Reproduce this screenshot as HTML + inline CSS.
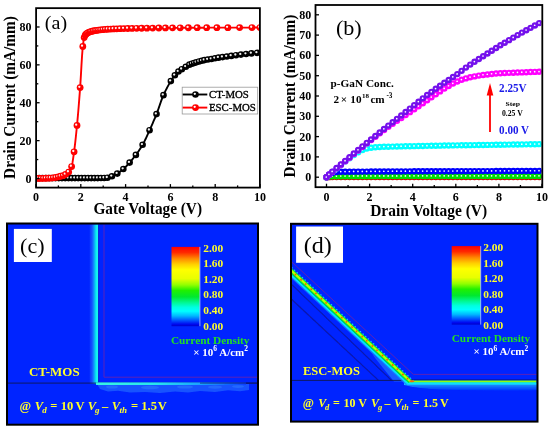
<!DOCTYPE html>
<html><head><meta charset="utf-8"><style>html,body{margin:0;padding:0;background:#fff;width:550px;height:430px;overflow:hidden}svg{display:block}</style></head><body>
<svg width="550" height="430" viewBox="0 0 550 430" font-family="'Liberation Serif','Times New Roman',serif">
<rect width="550" height="430" fill="#fff"/>
<clipPath id="clipa"><rect x="36.9" y="9" width="222.2" height="177.7"/></clipPath><g clip-path="url(#clipa)">
<polyline points="36.00,178.12 36.56,178.12 37.12,178.12 37.68,178.12 38.25,178.12 38.81,178.12 39.37,178.12 39.93,178.12 40.49,178.12 41.05,178.12 41.61,178.12 42.18,178.12 42.74,178.12 43.30,178.12 43.86,178.12 44.42,178.12 44.98,178.12 45.54,178.12 46.11,178.12 46.67,178.12 47.23,178.12 47.79,178.12 48.35,178.12 48.91,178.12 49.47,178.12 50.04,178.12 50.60,178.11 51.16,178.11 51.72,178.11 52.28,178.11 52.84,178.11 53.40,178.11 53.96,178.11 54.53,178.11 55.09,178.11 55.65,178.11 56.21,178.11 56.77,178.11 57.33,178.11 57.89,178.11 58.46,178.11 59.02,178.11 59.58,178.11 60.14,178.11 60.70,178.11 61.26,178.11 61.82,178.11 62.39,178.11 62.95,178.11 63.51,178.11 64.07,178.11 64.63,178.11 65.19,178.11 65.75,178.11 66.32,178.11 66.88,178.11 67.44,178.11 68.00,178.11 68.56,178.11 69.12,178.11 69.68,178.11 70.25,178.11 70.81,178.11 71.37,178.11 71.93,178.11 72.49,178.11 73.05,178.11 73.61,178.11 74.18,178.11 74.74,178.11 75.30,178.11 75.86,178.11 76.42,178.11 76.98,178.11 77.54,178.11 78.11,178.10 78.67,178.10 79.23,178.10 79.79,178.10 80.35,178.10 80.91,178.10 81.47,178.10 82.04,178.10 82.60,178.10 83.16,178.10 83.72,178.10 84.28,178.10 84.84,178.10 85.40,178.10 85.96,178.10 86.53,178.10 87.09,178.10 87.65,178.10 88.21,178.10 88.77,178.10 89.33,178.10 89.89,178.10 90.46,178.09 91.02,178.09 91.58,178.09 92.14,178.09 92.70,178.09 93.26,178.09 93.82,178.09 94.39,178.09 94.95,178.09 95.51,178.09 96.07,178.09 96.63,178.09 97.19,178.09 97.75,178.08 98.32,178.08 98.88,178.08 99.44,178.08 100.00,178.07 100.56,178.06 101.12,178.05 101.68,178.03 102.25,178.02 102.81,177.99 103.37,177.97 103.93,177.94 104.49,177.91 105.05,177.88 105.61,177.84 106.18,177.80 106.74,177.76 107.30,177.71 107.86,177.62 108.42,177.49 108.98,177.33 109.54,177.14 110.11,176.94 110.67,176.72 111.23,176.50 111.79,176.28 112.35,176.07 112.91,175.84 113.47,175.59 114.04,175.33 114.60,175.06 115.16,174.77 115.72,174.48 116.28,174.17 116.84,173.85 117.40,173.52 117.96,173.18 118.53,172.81 119.09,172.42 119.65,172.02 120.21,171.60 120.77,171.17 121.33,170.72 121.89,170.26 122.46,169.80 123.02,169.31 123.58,168.81 124.14,168.30 124.70,167.77 125.26,167.23 125.82,166.68 126.39,166.11 126.95,165.53 127.51,164.93 128.07,164.33 128.63,163.71 129.19,163.09 129.75,162.45 130.32,161.81 130.88,161.15 131.44,160.49 132.00,159.83 132.56,159.15 133.12,158.46 133.68,157.76 134.25,157.05 134.81,156.33 135.37,155.60 135.93,154.86 136.49,154.10 137.05,153.33 137.61,152.54 138.18,151.74 138.74,150.92 139.30,150.09 139.86,149.24 140.42,148.37 140.98,147.48 141.54,146.58 142.11,145.66 142.67,144.71 143.23,143.73 143.79,142.68 144.35,141.59 144.91,140.45 145.47,139.28 146.04,138.07 146.60,136.84 147.16,135.59 147.72,134.34 148.28,133.07 148.84,131.82 149.40,130.57 149.96,129.33 150.53,128.08 151.09,126.83 151.65,125.58 152.21,124.31 152.77,123.03 153.33,121.74 153.89,120.43 154.46,119.11 155.02,117.77 155.58,116.41 156.14,115.03 156.70,113.62 157.26,112.15 157.82,110.62 158.39,109.03 158.95,107.42 159.51,105.78 160.07,104.15 160.63,102.53 161.19,100.94 161.75,99.40 162.32,97.92 162.88,96.51 163.44,95.20 164.00,93.96 164.56,92.75 165.12,91.58 165.68,90.43 166.25,89.31 166.81,88.22 167.37,87.15 167.93,86.11 168.49,85.10 169.05,84.11 169.61,83.14 170.18,82.19 170.74,81.27 171.30,80.36 171.86,79.48 172.42,78.63 172.98,77.81 173.54,77.02 174.11,76.26 174.67,75.54 175.23,74.85 175.79,74.18 176.35,73.54 176.91,72.93 177.47,72.36 178.04,71.85 178.60,71.39 179.16,70.97 179.72,70.58 180.28,70.21 180.84,69.85 181.40,69.49 181.96,69.12 182.53,68.77 183.09,68.42 183.65,68.07 184.21,67.73 184.77,67.40 185.33,67.06 185.89,66.73 186.46,66.39 187.02,66.04 187.58,65.69 188.14,65.35 188.70,65.04 189.26,64.75 189.82,64.50 190.39,64.27 190.95,64.05 191.51,63.85 192.07,63.65 192.63,63.46 193.19,63.28 193.75,63.09 194.32,62.91 194.88,62.72 195.44,62.54 196.00,62.36 196.56,62.19 197.12,62.01 197.68,61.85 198.25,61.68 198.81,61.52 199.37,61.37 199.93,61.22 200.49,61.07 201.05,60.92 201.61,60.77 202.18,60.63 202.74,60.50 203.30,60.37 203.86,60.25 204.42,60.13 204.98,60.02 205.54,59.92 206.11,59.82 206.67,59.73 207.23,59.64 207.79,59.56 208.35,59.47 208.91,59.38 209.47,59.30 210.04,59.21 210.60,59.12 211.16,59.03 211.72,58.93 212.28,58.83 212.84,58.72 213.40,58.62 213.96,58.51 214.53,58.40 215.09,58.29 215.65,58.18 216.21,58.07 216.77,57.97 217.33,57.87 217.89,57.77 218.46,57.68 219.02,57.59 219.58,57.51 220.14,57.42 220.70,57.35 221.26,57.27 221.82,57.19 222.39,57.12 222.95,57.04 223.51,56.97 224.07,56.90 224.63,56.82 225.19,56.75 225.75,56.68 226.32,56.60 226.88,56.52 227.44,56.44 228.00,56.36 228.56,56.28 229.12,56.20 229.68,56.12 230.25,56.04 230.81,55.96 231.37,55.88 231.93,55.80 232.49,55.72 233.05,55.64 233.61,55.56 234.18,55.48 234.74,55.40 235.30,55.32 235.86,55.24 236.42,55.17 236.98,55.09 237.54,55.02 238.11,54.95 238.67,54.88 239.23,54.80 239.79,54.73 240.35,54.66 240.91,54.60 241.47,54.53 242.04,54.46 242.60,54.39 243.16,54.33 243.72,54.26 244.28,54.19 244.84,54.13 245.40,54.07 245.96,54.00 246.53,53.94 247.09,53.87 247.65,53.81 248.21,53.75 248.77,53.69 249.33,53.63 249.89,53.57 250.46,53.51 251.02,53.45 251.58,53.39 252.14,53.33 252.70,53.28 253.26,53.22 253.82,53.16 254.39,53.11 254.95,53.05 255.51,53.00 256.07,52.94 256.63,52.89 257.19,52.83 257.75,52.77 258.32,52.72 258.88,52.66 259.44,52.61 260.00,52.55" fill="none" stroke="#000" stroke-width="1.9"/>
<circle cx="36.00" cy="178.12" r="3.3" fill="#000"/><circle cx="35.30" cy="177.42" r="1.15" fill="#fff" opacity="0.95"/>
<circle cx="39.25" cy="178.12" r="3.3" fill="#000"/><circle cx="38.55" cy="177.42" r="1.15" fill="#fff" opacity="0.95"/>
<circle cx="42.50" cy="178.12" r="3.3" fill="#000"/><circle cx="41.80" cy="177.42" r="1.15" fill="#fff" opacity="0.95"/>
<circle cx="45.74" cy="178.12" r="3.3" fill="#000"/><circle cx="45.04" cy="177.42" r="1.15" fill="#fff" opacity="0.95"/>
<circle cx="48.99" cy="178.12" r="3.3" fill="#000"/><circle cx="48.29" cy="177.42" r="1.15" fill="#fff" opacity="0.95"/>
<circle cx="52.24" cy="178.11" r="3.3" fill="#000"/><circle cx="51.54" cy="177.41" r="1.15" fill="#fff" opacity="0.95"/>
<circle cx="55.49" cy="178.11" r="3.3" fill="#000"/><circle cx="54.79" cy="177.41" r="1.15" fill="#fff" opacity="0.95"/>
<circle cx="58.74" cy="178.11" r="3.3" fill="#000"/><circle cx="58.04" cy="177.41" r="1.15" fill="#fff" opacity="0.95"/>
<circle cx="61.98" cy="178.11" r="3.3" fill="#000"/><circle cx="61.28" cy="177.41" r="1.15" fill="#fff" opacity="0.95"/>
<circle cx="65.23" cy="178.11" r="3.3" fill="#000"/><circle cx="64.53" cy="177.41" r="1.15" fill="#fff" opacity="0.95"/>
<circle cx="68.48" cy="178.11" r="3.3" fill="#000"/><circle cx="67.78" cy="177.41" r="1.15" fill="#fff" opacity="0.95"/>
<circle cx="71.73" cy="178.11" r="3.3" fill="#000"/><circle cx="71.03" cy="177.41" r="1.15" fill="#fff" opacity="0.95"/>
<circle cx="74.98" cy="178.11" r="3.3" fill="#000"/><circle cx="74.28" cy="177.41" r="1.15" fill="#fff" opacity="0.95"/>
<circle cx="78.22" cy="178.10" r="3.3" fill="#000"/><circle cx="77.52" cy="177.40" r="1.15" fill="#fff" opacity="0.95"/>
<circle cx="81.47" cy="178.10" r="3.3" fill="#000"/><circle cx="80.77" cy="177.40" r="1.15" fill="#fff" opacity="0.95"/>
<circle cx="84.72" cy="178.10" r="3.3" fill="#000"/><circle cx="84.02" cy="177.40" r="1.15" fill="#fff" opacity="0.95"/>
<circle cx="87.97" cy="178.10" r="3.3" fill="#000"/><circle cx="87.27" cy="177.40" r="1.15" fill="#fff" opacity="0.95"/>
<circle cx="91.22" cy="178.09" r="3.3" fill="#000"/><circle cx="90.52" cy="177.39" r="1.15" fill="#fff" opacity="0.95"/>
<circle cx="94.46" cy="178.09" r="3.3" fill="#000"/><circle cx="93.76" cy="177.39" r="1.15" fill="#fff" opacity="0.95"/>
<circle cx="97.71" cy="178.08" r="3.3" fill="#000"/><circle cx="97.01" cy="177.38" r="1.15" fill="#fff" opacity="0.95"/>
<circle cx="100.96" cy="178.05" r="3.3" fill="#000"/><circle cx="100.26" cy="177.35" r="1.15" fill="#fff" opacity="0.95"/>
<circle cx="104.21" cy="177.93" r="3.3" fill="#000"/><circle cx="103.51" cy="177.23" r="1.15" fill="#fff" opacity="0.95"/>
<circle cx="107.46" cy="177.69" r="3.3" fill="#000"/><circle cx="106.76" cy="176.99" r="1.15" fill="#fff" opacity="0.95"/>
<circle cx="111.94" cy="176.23" r="3.3" fill="#000"/><circle cx="111.24" cy="175.53" r="1.15" fill="#fff" opacity="0.95"/>
<circle cx="117.31" cy="173.58" r="3.3" fill="#000"/><circle cx="116.61" cy="172.88" r="1.15" fill="#fff" opacity="0.95"/>
<circle cx="123.36" cy="169.01" r="3.3" fill="#000"/><circle cx="122.66" cy="168.31" r="1.15" fill="#fff" opacity="0.95"/>
<circle cx="129.63" cy="162.59" r="3.3" fill="#000"/><circle cx="128.93" cy="161.89" r="1.15" fill="#fff" opacity="0.95"/>
<circle cx="135.90" cy="154.89" r="3.3" fill="#000"/><circle cx="135.20" cy="154.19" r="1.15" fill="#fff" opacity="0.95"/>
<circle cx="142.62" cy="144.79" r="3.3" fill="#000"/><circle cx="141.92" cy="144.09" r="1.15" fill="#fff" opacity="0.95"/>
<circle cx="149.57" cy="130.20" r="3.3" fill="#000"/><circle cx="148.87" cy="129.50" r="1.15" fill="#fff" opacity="0.95"/>
<circle cx="156.51" cy="114.10" r="3.3" fill="#000"/><circle cx="155.81" cy="113.40" r="1.15" fill="#fff" opacity="0.95"/>
<circle cx="163.46" cy="95.16" r="3.3" fill="#000"/><circle cx="162.76" cy="94.46" r="1.15" fill="#fff" opacity="0.95"/>
<circle cx="170.85" cy="81.09" r="3.3" fill="#000"/><circle cx="170.15" cy="80.39" r="1.15" fill="#fff" opacity="0.95"/>
<circle cx="174.88" cy="75.28" r="3.3" fill="#000"/><circle cx="174.18" cy="74.58" r="1.15" fill="#fff" opacity="0.95"/>
<circle cx="178.46" cy="71.50" r="3.3" fill="#000"/><circle cx="177.76" cy="70.80" r="1.15" fill="#fff" opacity="0.95"/>
<circle cx="181.82" cy="69.22" r="3.3" fill="#000"/><circle cx="181.12" cy="68.52" r="1.15" fill="#fff" opacity="0.95"/>
<circle cx="185.86" cy="66.75" r="3.3" fill="#000"/><circle cx="185.16" cy="66.05" r="1.15" fill="#fff" opacity="0.95"/>
<circle cx="189.44" cy="64.67" r="3.3" fill="#000"/><circle cx="188.74" cy="63.97" r="1.15" fill="#fff" opacity="0.95"/>
<circle cx="191.90" cy="63.71" r="3.3" fill="#000"/><circle cx="191.20" cy="63.01" r="1.15" fill="#fff" opacity="0.95"/>
<circle cx="194.14" cy="62.97" r="3.3" fill="#000"/><circle cx="193.44" cy="62.27" r="1.15" fill="#fff" opacity="0.95"/>
<circle cx="196.38" cy="62.24" r="3.3" fill="#000"/><circle cx="195.68" cy="61.54" r="1.15" fill="#fff" opacity="0.95"/>
<circle cx="199.07" cy="61.45" r="3.3" fill="#000"/><circle cx="198.37" cy="60.75" r="1.15" fill="#fff" opacity="0.95"/>
<circle cx="201.76" cy="60.74" r="3.3" fill="#000"/><circle cx="201.06" cy="60.04" r="1.15" fill="#fff" opacity="0.95"/>
<circle cx="204.45" cy="60.12" r="3.3" fill="#000"/><circle cx="203.75" cy="59.42" r="1.15" fill="#fff" opacity="0.95"/>
<circle cx="207.81" cy="59.55" r="3.3" fill="#000"/><circle cx="207.11" cy="58.85" r="1.15" fill="#fff" opacity="0.95"/>
<circle cx="211.39" cy="58.99" r="3.3" fill="#000"/><circle cx="210.69" cy="58.29" r="1.15" fill="#fff" opacity="0.95"/>
<circle cx="214.98" cy="58.31" r="3.3" fill="#000"/><circle cx="214.28" cy="57.61" r="1.15" fill="#fff" opacity="0.95"/>
<circle cx="218.56" cy="57.66" r="3.3" fill="#000"/><circle cx="217.86" cy="56.96" r="1.15" fill="#fff" opacity="0.95"/>
<circle cx="222.59" cy="57.09" r="3.3" fill="#000"/><circle cx="221.89" cy="56.39" r="1.15" fill="#fff" opacity="0.95"/>
<circle cx="226.85" cy="56.53" r="3.3" fill="#000"/><circle cx="226.15" cy="55.83" r="1.15" fill="#fff" opacity="0.95"/>
<circle cx="231.33" cy="55.88" r="3.3" fill="#000"/><circle cx="230.63" cy="55.18" r="1.15" fill="#fff" opacity="0.95"/>
<circle cx="236.03" cy="55.22" r="3.3" fill="#000"/><circle cx="235.33" cy="54.52" r="1.15" fill="#fff" opacity="0.95"/>
<circle cx="240.96" cy="54.59" r="3.3" fill="#000"/><circle cx="240.26" cy="53.89" r="1.15" fill="#fff" opacity="0.95"/>
<circle cx="246.11" cy="53.98" r="3.3" fill="#000"/><circle cx="245.41" cy="53.28" r="1.15" fill="#fff" opacity="0.95"/>
<circle cx="251.49" cy="53.40" r="3.3" fill="#000"/><circle cx="250.79" cy="52.70" r="1.15" fill="#fff" opacity="0.95"/>
<circle cx="257.09" cy="52.84" r="3.3" fill="#000"/><circle cx="256.39" cy="52.14" r="1.15" fill="#fff" opacity="0.95"/>
<polyline points="36.00,178.50 36.56,178.48 37.12,178.47 37.68,178.46 38.25,178.44 38.81,178.43 39.37,178.42 39.93,178.41 40.49,178.39 41.05,178.38 41.61,178.37 42.18,178.36 42.74,178.34 43.30,178.33 43.86,178.32 44.42,178.30 44.98,178.29 45.54,178.27 46.11,178.25 46.67,178.23 47.23,178.21 47.79,178.19 48.35,178.17 48.91,178.15 49.47,178.12 50.04,178.09 50.60,178.05 51.16,178.00 51.72,177.95 52.28,177.90 52.84,177.83 53.40,177.76 53.96,177.69 54.53,177.61 55.09,177.53 55.65,177.44 56.21,177.36 56.77,177.25 57.33,177.12 57.89,176.98 58.46,176.82 59.02,176.67 59.58,176.52 60.14,176.38 60.70,176.25 61.26,176.13 61.82,176.01 62.39,175.87 62.95,175.71 63.51,175.50 64.07,175.23 64.63,174.91 65.19,174.57 65.75,174.22 66.32,173.88 66.88,173.54 67.44,173.16 68.00,172.72 68.56,172.21 69.12,171.58 69.68,170.80 70.25,169.83 70.81,168.66 71.37,167.26 71.93,165.46 72.49,162.68 73.05,159.13 73.61,155.17 74.18,151.10 74.74,146.74 75.30,141.93 75.86,136.75 76.42,131.27 76.98,125.57 77.54,119.58 78.11,113.21 78.67,106.49 79.23,99.45 79.79,92.13 80.35,84.39 80.91,75.18 81.47,65.30 82.04,56.03 82.60,48.61 83.16,43.69 83.72,39.74 84.28,37.12 84.84,35.82 85.40,34.89 85.96,34.21 86.53,33.69 87.09,33.26 87.65,32.89 88.21,32.57 88.77,32.29 89.33,32.06 89.89,31.86 90.46,31.68 91.02,31.51 91.58,31.36 92.14,31.21 92.70,31.08 93.26,30.95 93.82,30.84 94.39,30.73 94.95,30.63 95.51,30.54 96.07,30.45 96.63,30.37 97.19,30.29 97.75,30.21 98.32,30.14 98.88,30.06 99.44,29.99 100.00,29.92 100.56,29.86 101.12,29.80 101.68,29.73 102.25,29.68 102.81,29.62 103.37,29.57 103.93,29.52 104.49,29.47 105.05,29.42 105.61,29.38 106.18,29.34 106.74,29.31 107.30,29.27 107.86,29.24 108.42,29.21 108.98,29.18 109.54,29.16 110.11,29.13 110.67,29.10 111.23,29.07 111.79,29.05 112.35,29.02 112.91,29.00 113.47,28.97 114.04,28.95 114.60,28.92 115.16,28.90 115.72,28.88 116.28,28.86 116.84,28.83 117.40,28.81 117.96,28.79 118.53,28.77 119.09,28.75 119.65,28.73 120.21,28.71 120.77,28.69 121.33,28.67 121.89,28.66 122.46,28.64 123.02,28.62 123.58,28.60 124.14,28.59 124.70,28.57 125.26,28.56 125.82,28.54 126.39,28.53 126.95,28.51 127.51,28.50 128.07,28.48 128.63,28.47 129.19,28.46 129.75,28.44 130.32,28.43 130.88,28.42 131.44,28.41 132.00,28.39 132.56,28.38 133.12,28.37 133.68,28.36 134.25,28.35 134.81,28.34 135.37,28.33 135.93,28.32 136.49,28.31 137.05,28.30 137.61,28.29 138.18,28.28 138.74,28.27 139.30,28.27 139.86,28.26 140.42,28.25 140.98,28.24 141.54,28.23 142.11,28.22 142.67,28.21 143.23,28.21 143.79,28.20 144.35,28.19 144.91,28.18 145.47,28.17 146.04,28.16 146.60,28.16 147.16,28.15 147.72,28.14 148.28,28.13 148.84,28.13 149.40,28.12 149.96,28.11 150.53,28.10 151.09,28.10 151.65,28.09 152.21,28.08 152.77,28.07 153.33,28.07 153.89,28.06 154.46,28.05 155.02,28.05 155.58,28.04 156.14,28.03 156.70,28.03 157.26,28.02 157.82,28.01 158.39,28.01 158.95,28.00 159.51,27.99 160.07,27.99 160.63,27.98 161.19,27.98 161.75,27.97 162.32,27.96 162.88,27.96 163.44,27.95 164.00,27.95 164.56,27.94 165.12,27.94 165.68,27.93 166.25,27.92 166.81,27.92 167.37,27.91 167.93,27.91 168.49,27.90 169.05,27.90 169.61,27.89 170.18,27.89 170.74,27.88 171.30,27.88 171.86,27.87 172.42,27.87 172.98,27.86 173.54,27.86 174.11,27.85 174.67,27.85 175.23,27.85 175.79,27.84 176.35,27.84 176.91,27.83 177.47,27.83 178.04,27.82 178.60,27.82 179.16,27.82 179.72,27.81 180.28,27.81 180.84,27.80 181.40,27.80 181.96,27.80 182.53,27.79 183.09,27.79 183.65,27.79 184.21,27.78 184.77,27.78 185.33,27.78 185.89,27.77 186.46,27.77 187.02,27.77 187.58,27.76 188.14,27.76 188.70,27.76 189.26,27.75 189.82,27.75 190.39,27.75 190.95,27.75 191.51,27.74 192.07,27.74 192.63,27.74 193.19,27.74 193.75,27.73 194.32,27.73 194.88,27.73 195.44,27.73 196.00,27.72 196.56,27.72 197.12,27.72 197.68,27.72 198.25,27.71 198.81,27.71 199.37,27.71 199.93,27.71 200.49,27.71 201.05,27.70 201.61,27.70 202.18,27.70 202.74,27.70 203.30,27.70 203.86,27.69 204.42,27.69 204.98,27.69 205.54,27.69 206.11,27.69 206.67,27.68 207.23,27.68 207.79,27.68 208.35,27.68 208.91,27.68 209.47,27.67 210.04,27.67 210.60,27.67 211.16,27.67 211.72,27.67 212.28,27.67 212.84,27.66 213.40,27.66 213.96,27.66 214.53,27.66 215.09,27.66 215.65,27.66 216.21,27.66 216.77,27.65 217.33,27.65 217.89,27.65 218.46,27.65 219.02,27.65 219.58,27.65 220.14,27.64 220.70,27.64 221.26,27.64 221.82,27.64 222.39,27.64 222.95,27.64 223.51,27.64 224.07,27.63 224.63,27.63 225.19,27.63 225.75,27.63 226.32,27.63 226.88,27.63 227.44,27.63 228.00,27.63 228.56,27.62 229.12,27.62 229.68,27.62 230.25,27.62 230.81,27.62 231.37,27.62 231.93,27.62 232.49,27.61 233.05,27.61 233.61,27.61 234.18,27.61 234.74,27.61 235.30,27.61 235.86,27.61 236.42,27.61 236.98,27.60 237.54,27.60 238.11,27.60 238.67,27.60 239.23,27.60 239.79,27.60 240.35,27.60 240.91,27.60 241.47,27.59 242.04,27.59 242.60,27.59 243.16,27.59 243.72,27.59 244.28,27.59 244.84,27.59 245.40,27.59 245.96,27.58 246.53,27.58 247.09,27.58 247.65,27.58 248.21,27.58 248.77,27.58 249.33,27.58 249.89,27.57 250.46,27.57 251.02,27.57 251.58,27.57 252.14,27.57 252.70,27.57 253.26,27.57 253.82,27.56 254.39,27.56 254.95,27.56 255.51,27.56 256.07,27.56 256.63,27.56 257.19,27.56 257.75,27.55 258.32,27.55 258.88,27.55 259.44,27.55 260.00,27.55" fill="none" stroke="#f00" stroke-width="1.9"/>
<circle cx="36.00" cy="178.50" r="3.4" fill="#f00"/><circle cx="35.20" cy="177.70" r="1.15" fill="#fff" opacity="0.95"/>
<circle cx="38.46" cy="178.44" r="3.4" fill="#f00"/><circle cx="37.66" cy="177.64" r="1.15" fill="#fff" opacity="0.95"/>
<circle cx="40.93" cy="178.38" r="3.4" fill="#f00"/><circle cx="40.13" cy="177.58" r="1.15" fill="#fff" opacity="0.95"/>
<circle cx="43.39" cy="178.33" r="3.4" fill="#f00"/><circle cx="42.59" cy="177.53" r="1.15" fill="#fff" opacity="0.95"/>
<circle cx="45.86" cy="178.26" r="3.4" fill="#f00"/><circle cx="45.06" cy="177.46" r="1.15" fill="#fff" opacity="0.95"/>
<circle cx="48.32" cy="178.17" r="3.4" fill="#f00"/><circle cx="47.52" cy="177.37" r="1.15" fill="#fff" opacity="0.95"/>
<circle cx="50.78" cy="178.04" r="3.4" fill="#f00"/><circle cx="49.98" cy="177.24" r="1.15" fill="#fff" opacity="0.95"/>
<circle cx="53.25" cy="177.78" r="3.4" fill="#f00"/><circle cx="52.45" cy="176.98" r="1.15" fill="#fff" opacity="0.95"/>
<circle cx="55.71" cy="177.43" r="3.4" fill="#f00"/><circle cx="54.91" cy="176.63" r="1.15" fill="#fff" opacity="0.95"/>
<circle cx="58.18" cy="176.90" r="3.4" fill="#f00"/><circle cx="57.38" cy="176.10" r="1.15" fill="#fff" opacity="0.95"/>
<circle cx="60.64" cy="176.26" r="3.4" fill="#f00"/><circle cx="59.84" cy="175.46" r="1.15" fill="#fff" opacity="0.95"/>
<circle cx="63.10" cy="175.66" r="3.4" fill="#f00"/><circle cx="62.30" cy="174.86" r="1.15" fill="#fff" opacity="0.95"/>
<circle cx="65.57" cy="174.33" r="3.4" fill="#f00"/><circle cx="64.77" cy="173.53" r="1.15" fill="#fff" opacity="0.95"/>
<circle cx="68.70" cy="172.06" r="3.4" fill="#f00"/><circle cx="67.90" cy="171.26" r="1.15" fill="#fff" opacity="0.95"/>
<circle cx="71.62" cy="166.57" r="3.4" fill="#f00"/><circle cx="70.82" cy="165.77" r="1.15" fill="#fff" opacity="0.95"/>
<circle cx="74.08" cy="151.79" r="3.4" fill="#f00"/><circle cx="73.28" cy="150.99" r="1.15" fill="#fff" opacity="0.95"/>
<circle cx="76.99" cy="125.47" r="3.4" fill="#f00"/><circle cx="76.19" cy="124.67" r="1.15" fill="#fff" opacity="0.95"/>
<circle cx="80.13" cy="87.59" r="3.4" fill="#f00"/><circle cx="79.33" cy="86.79" r="1.15" fill="#fff" opacity="0.95"/>
<circle cx="82.82" cy="46.49" r="3.4" fill="#f00"/><circle cx="82.02" cy="45.69" r="1.15" fill="#fff" opacity="0.95"/>
<circle cx="84.16" cy="37.54" r="3.4" fill="#f00"/><circle cx="83.36" cy="36.74" r="1.15" fill="#fff" opacity="0.95"/>
<circle cx="85.17" cy="35.24" r="3.4" fill="#f00"/><circle cx="84.37" cy="34.44" r="1.15" fill="#fff" opacity="0.95"/>
<circle cx="86.25" cy="33.93" r="3.4" fill="#f00"/><circle cx="85.45" cy="33.13" r="1.15" fill="#fff" opacity="0.95"/>
<circle cx="87.42" cy="33.03" r="3.4" fill="#f00"/><circle cx="86.62" cy="32.23" r="1.15" fill="#fff" opacity="0.95"/>
<circle cx="88.67" cy="32.34" r="3.4" fill="#f00"/><circle cx="87.87" cy="31.54" r="1.15" fill="#fff" opacity="0.95"/>
<circle cx="90.01" cy="31.82" r="3.4" fill="#f00"/><circle cx="89.21" cy="31.02" r="1.15" fill="#fff" opacity="0.95"/>
<circle cx="91.46" cy="31.39" r="3.4" fill="#f00"/><circle cx="90.66" cy="30.59" r="1.15" fill="#fff" opacity="0.95"/>
<circle cx="93.02" cy="31.01" r="3.4" fill="#f00"/><circle cx="92.22" cy="30.21" r="1.15" fill="#fff" opacity="0.95"/>
<circle cx="94.69" cy="30.68" r="3.4" fill="#f00"/><circle cx="93.89" cy="29.88" r="1.15" fill="#fff" opacity="0.95"/>
<circle cx="96.49" cy="30.39" r="3.4" fill="#f00"/><circle cx="95.69" cy="29.59" r="1.15" fill="#fff" opacity="0.95"/>
<circle cx="98.42" cy="30.12" r="3.4" fill="#f00"/><circle cx="97.62" cy="29.32" r="1.15" fill="#fff" opacity="0.95"/>
<circle cx="100.50" cy="29.87" r="3.4" fill="#f00"/><circle cx="99.70" cy="29.07" r="1.15" fill="#fff" opacity="0.95"/>
<circle cx="102.73" cy="29.63" r="3.4" fill="#f00"/><circle cx="101.93" cy="28.83" r="1.15" fill="#fff" opacity="0.95"/>
<circle cx="105.13" cy="29.42" r="3.4" fill="#f00"/><circle cx="104.33" cy="28.62" r="1.15" fill="#fff" opacity="0.95"/>
<circle cx="107.71" cy="29.25" r="3.4" fill="#f00"/><circle cx="106.91" cy="28.45" r="1.15" fill="#fff" opacity="0.95"/>
<circle cx="110.49" cy="29.11" r="3.4" fill="#f00"/><circle cx="109.69" cy="28.31" r="1.15" fill="#fff" opacity="0.95"/>
<circle cx="113.47" cy="28.97" r="3.4" fill="#f00"/><circle cx="112.67" cy="28.17" r="1.15" fill="#fff" opacity="0.95"/>
<circle cx="116.68" cy="28.84" r="3.4" fill="#f00"/><circle cx="115.88" cy="28.04" r="1.15" fill="#fff" opacity="0.95"/>
<circle cx="120.12" cy="28.71" r="3.4" fill="#f00"/><circle cx="119.32" cy="27.91" r="1.15" fill="#fff" opacity="0.95"/>
<circle cx="123.83" cy="28.60" r="3.4" fill="#f00"/><circle cx="123.03" cy="27.80" r="1.15" fill="#fff" opacity="0.95"/>
<circle cx="127.81" cy="28.49" r="3.4" fill="#f00"/><circle cx="127.01" cy="27.69" r="1.15" fill="#fff" opacity="0.95"/>
<circle cx="132.09" cy="28.39" r="3.4" fill="#f00"/><circle cx="131.29" cy="27.59" r="1.15" fill="#fff" opacity="0.95"/>
<circle cx="136.70" cy="28.31" r="3.4" fill="#f00"/><circle cx="135.90" cy="27.51" r="1.15" fill="#fff" opacity="0.95"/>
<circle cx="141.64" cy="28.23" r="3.4" fill="#f00"/><circle cx="140.84" cy="27.43" r="1.15" fill="#fff" opacity="0.95"/>
<circle cx="146.96" cy="28.15" r="3.4" fill="#f00"/><circle cx="146.16" cy="27.35" r="1.15" fill="#fff" opacity="0.95"/>
<circle cx="152.68" cy="28.08" r="3.4" fill="#f00"/><circle cx="151.88" cy="27.28" r="1.15" fill="#fff" opacity="0.95"/>
<circle cx="158.83" cy="28.00" r="3.4" fill="#f00"/><circle cx="158.03" cy="27.20" r="1.15" fill="#fff" opacity="0.95"/>
<circle cx="165.44" cy="27.93" r="3.4" fill="#f00"/><circle cx="164.64" cy="27.13" r="1.15" fill="#fff" opacity="0.95"/>
<circle cx="172.54" cy="27.87" r="3.4" fill="#f00"/><circle cx="171.74" cy="27.07" r="1.15" fill="#fff" opacity="0.95"/>
<circle cx="180.18" cy="27.81" r="3.4" fill="#f00"/><circle cx="179.38" cy="27.01" r="1.15" fill="#fff" opacity="0.95"/>
<circle cx="188.39" cy="27.76" r="3.4" fill="#f00"/><circle cx="187.59" cy="26.96" r="1.15" fill="#fff" opacity="0.95"/>
<circle cx="197.21" cy="27.72" r="3.4" fill="#f00"/><circle cx="196.41" cy="26.92" r="1.15" fill="#fff" opacity="0.95"/>
<circle cx="206.70" cy="27.68" r="3.4" fill="#f00"/><circle cx="205.90" cy="26.88" r="1.15" fill="#fff" opacity="0.95"/>
<circle cx="216.90" cy="27.65" r="3.4" fill="#f00"/><circle cx="216.10" cy="26.85" r="1.15" fill="#fff" opacity="0.95"/>
<circle cx="227.86" cy="27.63" r="3.4" fill="#f00"/><circle cx="227.06" cy="26.83" r="1.15" fill="#fff" opacity="0.95"/>
<circle cx="239.65" cy="27.60" r="3.4" fill="#f00"/><circle cx="238.85" cy="26.80" r="1.15" fill="#fff" opacity="0.95"/>
<circle cx="251.97" cy="27.57" r="3.4" fill="#f00"/><circle cx="251.17" cy="26.77" r="1.15" fill="#fff" opacity="0.95"/>
<circle cx="260.00" cy="27.55" r="3.4" fill="#f00"/><circle cx="259.20" cy="26.75" r="1.15" fill="#fff" opacity="0.95"/>
</g>
<rect x="36.1" y="8.15" width="223.8" height="179.45" fill="none" stroke="#000" stroke-width="1.8"/>
<line x1="36.00" y1="187.6" x2="36.00" y2="184.10" stroke="#000" stroke-width="1.3"/>
<line x1="58.40" y1="187.6" x2="58.40" y2="185.40" stroke="#000" stroke-width="1.3"/>
<line x1="80.80" y1="187.6" x2="80.80" y2="184.10" stroke="#000" stroke-width="1.3"/>
<line x1="103.20" y1="187.6" x2="103.20" y2="185.40" stroke="#000" stroke-width="1.3"/>
<line x1="125.60" y1="187.6" x2="125.60" y2="184.10" stroke="#000" stroke-width="1.3"/>
<line x1="148.00" y1="187.6" x2="148.00" y2="185.40" stroke="#000" stroke-width="1.3"/>
<line x1="170.40" y1="187.6" x2="170.40" y2="184.10" stroke="#000" stroke-width="1.3"/>
<line x1="192.80" y1="187.6" x2="192.80" y2="185.40" stroke="#000" stroke-width="1.3"/>
<line x1="215.20" y1="187.6" x2="215.20" y2="184.10" stroke="#000" stroke-width="1.3"/>
<line x1="237.60" y1="187.6" x2="237.60" y2="185.40" stroke="#000" stroke-width="1.3"/>
<line x1="260.00" y1="187.6" x2="260.00" y2="184.10" stroke="#000" stroke-width="1.3"/>
<line x1="36.1" y1="178.50" x2="39.60" y2="178.50" stroke="#000" stroke-width="1.3"/>
<line x1="36.1" y1="159.56" x2="38.30" y2="159.56" stroke="#000" stroke-width="1.3"/>
<line x1="36.1" y1="140.62" x2="39.60" y2="140.62" stroke="#000" stroke-width="1.3"/>
<line x1="36.1" y1="121.68" x2="38.30" y2="121.68" stroke="#000" stroke-width="1.3"/>
<line x1="36.1" y1="102.74" x2="39.60" y2="102.74" stroke="#000" stroke-width="1.3"/>
<line x1="36.1" y1="83.80" x2="38.30" y2="83.80" stroke="#000" stroke-width="1.3"/>
<line x1="36.1" y1="64.86" x2="39.60" y2="64.86" stroke="#000" stroke-width="1.3"/>
<line x1="36.1" y1="45.92" x2="38.30" y2="45.92" stroke="#000" stroke-width="1.3"/>
<line x1="36.1" y1="26.98" x2="39.60" y2="26.98" stroke="#000" stroke-width="1.3"/>
<text x="36.00" y="201.3" font-size="12" font-weight="bold" text-anchor="middle">0</text>
<text x="80.80" y="201.3" font-size="12" font-weight="bold" text-anchor="middle">2</text>
<text x="125.60" y="201.3" font-size="12" font-weight="bold" text-anchor="middle">4</text>
<text x="170.40" y="201.3" font-size="12" font-weight="bold" text-anchor="middle">6</text>
<text x="215.20" y="201.3" font-size="12" font-weight="bold" text-anchor="middle">8</text>
<text x="260.00" y="201.3" font-size="12" font-weight="bold" text-anchor="middle">10</text>
<text x="31.6" y="182.50" font-size="12" font-weight="bold" text-anchor="end">0</text>
<text x="31.6" y="144.62" font-size="12" font-weight="bold" text-anchor="end">20</text>
<text x="31.6" y="106.74" font-size="12" font-weight="bold" text-anchor="end">40</text>
<text x="31.6" y="68.86" font-size="12" font-weight="bold" text-anchor="end">60</text>
<text x="31.6" y="30.98" font-size="12" font-weight="bold" text-anchor="end">80</text>
<text x="147.7" y="214" font-size="16" font-weight="bold" text-anchor="middle" textLength="108.6" lengthAdjust="spacingAndGlyphs">Gate Voltage (V)</text>
<text transform="translate(14.8,97.5) rotate(-90)" font-size="16" font-weight="bold" text-anchor="middle" textLength="162.8" lengthAdjust="spacingAndGlyphs">Drain Current (mA/mm)</text>
<text x="44.8" y="28.5" font-size="18.4" textLength="22.3" lengthAdjust="spacingAndGlyphs">(a)</text>
<rect x="182.2" y="87.2" width="75.5" height="26.8" fill="#fff" stroke="#999" stroke-width="0.8"/>
<line x1="182.7" y1="94.5" x2="207.3" y2="94.5" stroke="#000" stroke-width="1.9"/>
<circle cx="195.5" cy="94.5" r="3.3" fill="#000"/><circle cx="194.8" cy="93.8" r="1.15" fill="#fff"/>
<text x="209" y="98.3" font-size="10.8" stroke="#000" stroke-width="0.35">CT-MOS</text>
<line x1="182.7" y1="107.6" x2="207.3" y2="107.6" stroke="#f00" stroke-width="1.9"/>
<circle cx="195.5" cy="107.6" r="3.4" fill="#f00"/><circle cx="194.7" cy="106.8" r="1.15" fill="#fff"/>
<text x="209" y="111.3" font-size="10.8" stroke="#000" stroke-width="0.35">ESC-MOS</text>
<clipPath id="clipb"><rect x="316.3" y="5.8" width="225.2" height="180.6"/></clipPath><g clip-path="url(#clipb)">
<polyline points="326.50,177.20 327.58,177.18 328.65,177.16 329.73,177.14 330.81,177.12 331.89,177.10 332.96,177.10 334.04,177.10 335.12,177.10 336.20,177.10 337.27,177.10 338.35,177.10 339.43,177.10 340.51,177.10 341.58,177.10 342.66,177.10 343.74,177.10 344.82,177.10 345.89,177.10 346.97,177.10 348.05,177.10 349.13,177.10 350.20,177.10 351.28,177.10 352.36,177.10 353.44,177.10 354.51,177.10 355.59,177.10 356.67,177.10 357.75,177.10 358.82,177.10 359.90,177.10 360.98,177.10 362.06,177.10 363.13,177.10 364.21,177.10 365.29,177.10 366.37,177.10 367.44,177.10 368.52,177.10 369.60,177.10 370.68,177.10 371.75,177.10 372.83,177.10 373.91,177.10 374.99,177.10 376.06,177.10 377.14,177.10 378.22,177.10 379.30,177.10 380.38,177.10 381.45,177.10 382.53,177.10 383.61,177.10 384.69,177.10 385.76,177.10 386.84,177.10 387.92,177.10 389.00,177.10 390.07,177.10 391.15,177.10 392.23,177.10 393.31,177.10 394.38,177.10 395.46,177.10 396.54,177.10 397.62,177.10 398.69,177.10 399.77,177.10 400.85,177.10 401.93,177.10 403.00,177.10 404.08,177.10 405.16,177.10 406.24,177.10 407.31,177.10 408.39,177.10 409.47,177.10 410.55,177.10 411.62,177.10 412.70,177.10 413.78,177.10 414.86,177.10 415.93,177.10 417.01,177.10 418.09,177.10 419.17,177.10 420.24,177.10 421.32,177.10 422.40,177.10 423.48,177.10 424.55,177.10 425.63,177.10 426.71,177.10 427.79,177.10 428.86,177.10 429.94,177.10 431.02,177.10 432.10,177.10 433.17,177.10 434.25,177.10 435.33,177.10 436.41,177.10 437.48,177.10 438.56,177.10 439.64,177.10 440.72,177.10 441.79,177.10 442.87,177.10 443.95,177.10 445.02,177.10 446.10,177.10 447.18,177.10 448.26,177.10 449.34,177.10 450.41,177.10 451.49,177.10 452.57,177.10 453.64,177.10 454.72,177.10 455.80,177.10 456.88,177.10 457.96,177.10 459.03,177.10 460.11,177.10 461.19,177.10 462.26,177.10 463.34,177.10 464.42,177.10 465.50,177.10 466.58,177.10 467.65,177.10 468.73,177.10 469.81,177.10 470.88,177.10 471.96,177.10 473.04,177.10 474.12,177.10 475.20,177.10 476.27,177.10 477.35,177.10 478.43,177.10 479.50,177.10 480.58,177.10 481.66,177.10 482.74,177.10 483.82,177.10 484.89,177.10 485.97,177.10 487.05,177.10 488.12,177.10 489.20,177.10 490.28,177.10 491.36,177.10 492.44,177.10 493.51,177.10 494.59,177.10 495.67,177.10 496.75,177.10 497.82,177.10 498.90,177.10 499.98,177.10 501.06,177.10 502.13,177.10 503.21,177.10 504.29,177.10 505.37,177.10 506.44,177.10 507.52,177.10 508.60,177.10 509.68,177.10 510.75,177.10 511.83,177.10 512.91,177.10 513.99,177.10 515.06,177.10 516.14,177.10 517.22,177.10 518.30,177.10 519.37,177.10 520.45,177.10 521.53,177.10 522.61,177.10 523.68,177.10 524.76,177.10 525.84,177.10 526.91,177.10 527.99,177.10 529.07,177.10 530.15,177.10 531.23,177.10 532.30,177.10 533.38,177.10 534.46,177.10 535.54,177.10 536.61,177.10 537.69,177.10 538.77,177.10 539.85,177.10 540.92,177.10 542.00,177.10" fill="none" stroke="#cc0000" stroke-width="1.6"/>
<g fill="#cc0000"><circle cx="326.50" cy="177.20" r="3.2"/><circle cx="329.09" cy="177.15" r="3.2"/><circle cx="332.32" cy="177.10" r="3.2"/><circle cx="336.63" cy="177.10" r="3.2"/><circle cx="340.94" cy="177.10" r="3.2"/><circle cx="345.25" cy="177.10" r="3.2"/><circle cx="349.56" cy="177.10" r="3.2"/><circle cx="353.87" cy="177.10" r="3.2"/><circle cx="358.18" cy="177.10" r="3.2"/><circle cx="362.49" cy="177.10" r="3.2"/><circle cx="366.80" cy="177.10" r="3.2"/><circle cx="371.11" cy="177.10" r="3.2"/><circle cx="375.42" cy="177.10" r="3.2"/><circle cx="379.73" cy="177.10" r="3.2"/><circle cx="384.04" cy="177.10" r="3.2"/><circle cx="388.35" cy="177.10" r="3.2"/><circle cx="392.66" cy="177.10" r="3.2"/><circle cx="396.97" cy="177.10" r="3.2"/><circle cx="401.28" cy="177.10" r="3.2"/><circle cx="405.59" cy="177.10" r="3.2"/><circle cx="409.90" cy="177.10" r="3.2"/><circle cx="414.21" cy="177.10" r="3.2"/><circle cx="418.52" cy="177.10" r="3.2"/><circle cx="422.83" cy="177.10" r="3.2"/><circle cx="427.14" cy="177.10" r="3.2"/><circle cx="431.45" cy="177.10" r="3.2"/><circle cx="435.76" cy="177.10" r="3.2"/><circle cx="440.07" cy="177.10" r="3.2"/><circle cx="444.38" cy="177.10" r="3.2"/><circle cx="448.69" cy="177.10" r="3.2"/><circle cx="453.00" cy="177.10" r="3.2"/><circle cx="457.31" cy="177.10" r="3.2"/><circle cx="461.62" cy="177.10" r="3.2"/><circle cx="465.93" cy="177.10" r="3.2"/><circle cx="470.24" cy="177.10" r="3.2"/><circle cx="474.55" cy="177.10" r="3.2"/><circle cx="478.86" cy="177.10" r="3.2"/><circle cx="483.17" cy="177.10" r="3.2"/><circle cx="487.48" cy="177.10" r="3.2"/><circle cx="491.79" cy="177.10" r="3.2"/><circle cx="496.10" cy="177.10" r="3.2"/><circle cx="500.41" cy="177.10" r="3.2"/><circle cx="504.72" cy="177.10" r="3.2"/><circle cx="509.03" cy="177.10" r="3.2"/><circle cx="513.34" cy="177.10" r="3.2"/><circle cx="517.65" cy="177.10" r="3.2"/><circle cx="521.96" cy="177.10" r="3.2"/><circle cx="526.27" cy="177.10" r="3.2"/><circle cx="530.58" cy="177.10" r="3.2"/><circle cx="534.89" cy="177.10" r="3.2"/><circle cx="539.20" cy="177.10" r="3.2"/></g>
<g fill="#fff"><circle cx="326.30" cy="177.00" r="0.85"/><circle cx="328.89" cy="176.95" r="0.85"/><circle cx="332.12" cy="176.90" r="0.85"/><circle cx="336.43" cy="176.90" r="0.85"/><circle cx="340.74" cy="176.90" r="0.85"/><circle cx="345.05" cy="176.90" r="0.85"/><circle cx="349.36" cy="176.90" r="0.85"/><circle cx="353.67" cy="176.90" r="0.85"/><circle cx="357.98" cy="176.90" r="0.85"/><circle cx="362.29" cy="176.90" r="0.85"/><circle cx="366.60" cy="176.90" r="0.85"/><circle cx="370.91" cy="176.90" r="0.85"/><circle cx="375.22" cy="176.90" r="0.85"/><circle cx="379.53" cy="176.90" r="0.85"/><circle cx="383.84" cy="176.90" r="0.85"/><circle cx="388.15" cy="176.90" r="0.85"/><circle cx="392.46" cy="176.90" r="0.85"/><circle cx="396.77" cy="176.90" r="0.85"/><circle cx="401.08" cy="176.90" r="0.85"/><circle cx="405.39" cy="176.90" r="0.85"/><circle cx="409.70" cy="176.90" r="0.85"/><circle cx="414.01" cy="176.90" r="0.85"/><circle cx="418.32" cy="176.90" r="0.85"/><circle cx="422.63" cy="176.90" r="0.85"/><circle cx="426.94" cy="176.90" r="0.85"/><circle cx="431.25" cy="176.90" r="0.85"/><circle cx="435.56" cy="176.90" r="0.85"/><circle cx="439.87" cy="176.90" r="0.85"/><circle cx="444.18" cy="176.90" r="0.85"/><circle cx="448.49" cy="176.90" r="0.85"/><circle cx="452.80" cy="176.90" r="0.85"/><circle cx="457.11" cy="176.90" r="0.85"/><circle cx="461.42" cy="176.90" r="0.85"/><circle cx="465.73" cy="176.90" r="0.85"/><circle cx="470.04" cy="176.90" r="0.85"/><circle cx="474.35" cy="176.90" r="0.85"/><circle cx="478.66" cy="176.90" r="0.85"/><circle cx="482.97" cy="176.90" r="0.85"/><circle cx="487.28" cy="176.90" r="0.85"/><circle cx="491.59" cy="176.90" r="0.85"/><circle cx="495.90" cy="176.90" r="0.85"/><circle cx="500.21" cy="176.90" r="0.85"/><circle cx="504.52" cy="176.90" r="0.85"/><circle cx="508.83" cy="176.90" r="0.85"/><circle cx="513.14" cy="176.90" r="0.85"/><circle cx="517.45" cy="176.90" r="0.85"/><circle cx="521.76" cy="176.90" r="0.85"/><circle cx="526.07" cy="176.90" r="0.85"/><circle cx="530.38" cy="176.90" r="0.85"/><circle cx="534.69" cy="176.90" r="0.85"/><circle cx="539.00" cy="176.90" r="0.85"/></g>
<polyline points="326.50,177.20 327.58,176.96 328.65,176.71 329.73,176.49 330.81,176.39 331.89,176.36 332.96,176.34 334.04,176.31 335.12,176.29 336.20,176.28 337.27,176.26 338.35,176.25 339.43,176.23 340.51,176.22 341.58,176.21 342.66,176.21 343.74,176.20 344.82,176.20 345.89,176.19 346.97,176.19 348.05,176.19 349.13,176.18 350.20,176.18 351.28,176.18 352.36,176.17 353.44,176.17 354.51,176.17 355.59,176.17 356.67,176.16 357.75,176.16 358.82,176.16 359.90,176.16 360.98,176.16 362.06,176.15 363.13,176.15 364.21,176.15 365.29,176.15 366.37,176.14 367.44,176.14 368.52,176.14 369.60,176.14 370.68,176.14 371.75,176.13 372.83,176.13 373.91,176.13 374.99,176.13 376.06,176.13 377.14,176.12 378.22,176.12 379.30,176.12 380.38,176.12 381.45,176.12 382.53,176.11 383.61,176.11 384.69,176.11 385.76,176.11 386.84,176.11 387.92,176.11 389.00,176.10 390.07,176.10 391.15,176.10 392.23,176.10 393.31,176.10 394.38,176.10 395.46,176.10 396.54,176.09 397.62,176.09 398.69,176.09 399.77,176.09 400.85,176.09 401.93,176.09 403.00,176.09 404.08,176.08 405.16,176.08 406.24,176.08 407.31,176.08 408.39,176.08 409.47,176.08 410.55,176.08 411.62,176.08 412.70,176.08 413.78,176.07 414.86,176.07 415.93,176.07 417.01,176.07 418.09,176.07 419.17,176.07 420.24,176.07 421.32,176.07 422.40,176.07 423.48,176.06 424.55,176.06 425.63,176.06 426.71,176.06 427.79,176.06 428.86,176.06 429.94,176.06 431.02,176.06 432.10,176.06 433.17,176.06 434.25,176.06 435.33,176.06 436.41,176.05 437.48,176.05 438.56,176.05 439.64,176.05 440.72,176.05 441.79,176.05 442.87,176.05 443.95,176.05 445.02,176.05 446.10,176.05 447.18,176.05 448.26,176.05 449.34,176.05 450.41,176.04 451.49,176.04 452.57,176.04 453.64,176.04 454.72,176.04 455.80,176.04 456.88,176.04 457.96,176.04 459.03,176.04 460.11,176.04 461.19,176.04 462.26,176.04 463.34,176.04 464.42,176.04 465.50,176.04 466.58,176.03 467.65,176.03 468.73,176.03 469.81,176.03 470.88,176.03 471.96,176.03 473.04,176.03 474.12,176.03 475.20,176.03 476.27,176.03 477.35,176.03 478.43,176.03 479.50,176.03 480.58,176.03 481.66,176.03 482.74,176.03 483.82,176.03 484.89,176.02 485.97,176.02 487.05,176.02 488.12,176.02 489.20,176.02 490.28,176.02 491.36,176.02 492.44,176.02 493.51,176.02 494.59,176.02 495.67,176.02 496.75,176.02 497.82,176.02 498.90,176.02 499.98,176.02 501.06,176.01 502.13,176.01 503.21,176.01 504.29,176.01 505.37,176.01 506.44,176.01 507.52,176.01 508.60,176.01 509.68,176.01 510.75,176.01 511.83,176.01 512.91,176.01 513.99,176.01 515.06,176.01 516.14,176.00 517.22,176.00 518.30,176.00 519.37,176.00 520.45,176.00 521.53,176.00 522.61,176.00 523.68,176.00 524.76,176.00 525.84,176.00 526.91,176.00 527.99,176.00 529.07,175.99 530.15,175.99 531.23,175.99 532.30,175.99 533.38,175.99 534.46,175.99 535.54,175.99 536.61,175.99 537.69,175.99 538.77,175.99 539.85,175.98 540.92,175.98 542.00,175.98" fill="none" stroke="#00e000" stroke-width="1.6"/>
<g fill="#00e000"><circle cx="326.50" cy="177.20" r="3.2"/><circle cx="329.09" cy="176.61" r="3.2"/><circle cx="332.32" cy="176.35" r="3.2"/><circle cx="336.63" cy="176.27" r="3.2"/><circle cx="340.94" cy="176.22" r="3.2"/><circle cx="345.25" cy="176.19" r="3.2"/><circle cx="349.56" cy="176.18" r="3.2"/><circle cx="353.87" cy="176.17" r="3.2"/><circle cx="358.18" cy="176.16" r="3.2"/><circle cx="362.49" cy="176.15" r="3.2"/><circle cx="366.80" cy="176.14" r="3.2"/><circle cx="371.11" cy="176.13" r="3.2"/><circle cx="375.42" cy="176.13" r="3.2"/><circle cx="379.73" cy="176.12" r="3.2"/><circle cx="384.04" cy="176.11" r="3.2"/><circle cx="388.35" cy="176.11" r="3.2"/><circle cx="392.66" cy="176.10" r="3.2"/><circle cx="396.97" cy="176.09" r="3.2"/><circle cx="401.28" cy="176.09" r="3.2"/><circle cx="405.59" cy="176.08" r="3.2"/><circle cx="409.90" cy="176.08" r="3.2"/><circle cx="414.21" cy="176.07" r="3.2"/><circle cx="418.52" cy="176.07" r="3.2"/><circle cx="422.83" cy="176.07" r="3.2"/><circle cx="427.14" cy="176.06" r="3.2"/><circle cx="431.45" cy="176.06" r="3.2"/><circle cx="435.76" cy="176.05" r="3.2"/><circle cx="440.07" cy="176.05" r="3.2"/><circle cx="444.38" cy="176.05" r="3.2"/><circle cx="448.69" cy="176.05" r="3.2"/><circle cx="453.00" cy="176.04" r="3.2"/><circle cx="457.31" cy="176.04" r="3.2"/><circle cx="461.62" cy="176.04" r="3.2"/><circle cx="465.93" cy="176.04" r="3.2"/><circle cx="470.24" cy="176.03" r="3.2"/><circle cx="474.55" cy="176.03" r="3.2"/><circle cx="478.86" cy="176.03" r="3.2"/><circle cx="483.17" cy="176.03" r="3.2"/><circle cx="487.48" cy="176.02" r="3.2"/><circle cx="491.79" cy="176.02" r="3.2"/><circle cx="496.10" cy="176.02" r="3.2"/><circle cx="500.41" cy="176.02" r="3.2"/><circle cx="504.72" cy="176.01" r="3.2"/><circle cx="509.03" cy="176.01" r="3.2"/><circle cx="513.34" cy="176.01" r="3.2"/><circle cx="517.65" cy="176.00" r="3.2"/><circle cx="521.96" cy="176.00" r="3.2"/><circle cx="526.27" cy="176.00" r="3.2"/><circle cx="530.58" cy="175.99" r="3.2"/><circle cx="534.89" cy="175.99" r="3.2"/><circle cx="539.20" cy="175.98" r="3.2"/></g>
<g fill="#fff"><circle cx="326.30" cy="177.00" r="0.85"/><circle cx="328.89" cy="176.41" r="0.85"/><circle cx="332.12" cy="176.15" r="0.85"/><circle cx="336.43" cy="176.07" r="0.85"/><circle cx="340.74" cy="176.02" r="0.85"/><circle cx="345.05" cy="175.99" r="0.85"/><circle cx="349.36" cy="175.98" r="0.85"/><circle cx="353.67" cy="175.97" r="0.85"/><circle cx="357.98" cy="175.96" r="0.85"/><circle cx="362.29" cy="175.95" r="0.85"/><circle cx="366.60" cy="175.94" r="0.85"/><circle cx="370.91" cy="175.93" r="0.85"/><circle cx="375.22" cy="175.93" r="0.85"/><circle cx="379.53" cy="175.92" r="0.85"/><circle cx="383.84" cy="175.91" r="0.85"/><circle cx="388.15" cy="175.91" r="0.85"/><circle cx="392.46" cy="175.90" r="0.85"/><circle cx="396.77" cy="175.89" r="0.85"/><circle cx="401.08" cy="175.89" r="0.85"/><circle cx="405.39" cy="175.88" r="0.85"/><circle cx="409.70" cy="175.88" r="0.85"/><circle cx="414.01" cy="175.87" r="0.85"/><circle cx="418.32" cy="175.87" r="0.85"/><circle cx="422.63" cy="175.87" r="0.85"/><circle cx="426.94" cy="175.86" r="0.85"/><circle cx="431.25" cy="175.86" r="0.85"/><circle cx="435.56" cy="175.85" r="0.85"/><circle cx="439.87" cy="175.85" r="0.85"/><circle cx="444.18" cy="175.85" r="0.85"/><circle cx="448.49" cy="175.85" r="0.85"/><circle cx="452.80" cy="175.84" r="0.85"/><circle cx="457.11" cy="175.84" r="0.85"/><circle cx="461.42" cy="175.84" r="0.85"/><circle cx="465.73" cy="175.84" r="0.85"/><circle cx="470.04" cy="175.83" r="0.85"/><circle cx="474.35" cy="175.83" r="0.85"/><circle cx="478.66" cy="175.83" r="0.85"/><circle cx="482.97" cy="175.83" r="0.85"/><circle cx="487.28" cy="175.82" r="0.85"/><circle cx="491.59" cy="175.82" r="0.85"/><circle cx="495.90" cy="175.82" r="0.85"/><circle cx="500.21" cy="175.82" r="0.85"/><circle cx="504.52" cy="175.81" r="0.85"/><circle cx="508.83" cy="175.81" r="0.85"/><circle cx="513.14" cy="175.81" r="0.85"/><circle cx="517.45" cy="175.80" r="0.85"/><circle cx="521.76" cy="175.80" r="0.85"/><circle cx="526.07" cy="175.80" r="0.85"/><circle cx="530.38" cy="175.79" r="0.85"/><circle cx="534.69" cy="175.79" r="0.85"/><circle cx="539.00" cy="175.78" r="0.85"/></g>
<polyline points="326.50,177.20 327.58,176.12 328.65,175.09 329.73,174.33 330.81,173.67 331.89,173.13 332.96,172.73 334.04,172.45 335.12,172.20 336.20,172.02 337.27,171.92 338.35,171.88 339.43,171.85 340.51,171.82 341.58,171.80 342.66,171.78 343.74,171.76 344.82,171.75 345.89,171.74 346.97,171.73 348.05,171.72 349.13,171.71 350.20,171.70 351.28,171.69 352.36,171.68 353.44,171.67 354.51,171.67 355.59,171.66 356.67,171.65 357.75,171.64 358.82,171.63 359.90,171.62 360.98,171.62 362.06,171.61 363.13,171.60 364.21,171.59 365.29,171.59 366.37,171.58 367.44,171.57 368.52,171.56 369.60,171.56 370.68,171.55 371.75,171.54 372.83,171.53 373.91,171.53 374.99,171.52 376.06,171.51 377.14,171.51 378.22,171.50 379.30,171.49 380.38,171.49 381.45,171.48 382.53,171.48 383.61,171.47 384.69,171.46 385.76,171.46 386.84,171.45 387.92,171.44 389.00,171.44 390.07,171.43 391.15,171.43 392.23,171.42 393.31,171.42 394.38,171.41 395.46,171.40 396.54,171.40 397.62,171.39 398.69,171.39 399.77,171.38 400.85,171.38 401.93,171.37 403.00,171.37 404.08,171.36 405.16,171.36 406.24,171.35 407.31,171.35 408.39,171.34 409.47,171.34 410.55,171.33 411.62,171.33 412.70,171.33 413.78,171.32 414.86,171.32 415.93,171.31 417.01,171.31 418.09,171.30 419.17,171.30 420.24,171.30 421.32,171.29 422.40,171.29 423.48,171.28 424.55,171.28 425.63,171.27 426.71,171.27 427.79,171.27 428.86,171.26 429.94,171.26 431.02,171.26 432.10,171.25 433.17,171.25 434.25,171.24 435.33,171.24 436.41,171.24 437.48,171.23 438.56,171.23 439.64,171.23 440.72,171.22 441.79,171.22 442.87,171.22 443.95,171.21 445.02,171.21 446.10,171.21 447.18,171.20 448.26,171.20 449.34,171.20 450.41,171.19 451.49,171.19 452.57,171.19 453.64,171.18 454.72,171.18 455.80,171.18 456.88,171.17 457.96,171.17 459.03,171.17 460.11,171.16 461.19,171.16 462.26,171.16 463.34,171.16 464.42,171.15 465.50,171.15 466.58,171.15 467.65,171.14 468.73,171.14 469.81,171.14 470.88,171.13 471.96,171.13 473.04,171.13 474.12,171.13 475.20,171.12 476.27,171.12 477.35,171.12 478.43,171.11 479.50,171.11 480.58,171.11 481.66,171.10 482.74,171.10 483.82,171.10 484.89,171.10 485.97,171.09 487.05,171.09 488.12,171.09 489.20,171.08 490.28,171.08 491.36,171.08 492.44,171.07 493.51,171.07 494.59,171.07 495.67,171.07 496.75,171.06 497.82,171.06 498.90,171.06 499.98,171.05 501.06,171.05 502.13,171.05 503.21,171.04 504.29,171.04 505.37,171.04 506.44,171.03 507.52,171.03 508.60,171.03 509.68,171.02 510.75,171.02 511.83,171.02 512.91,171.01 513.99,171.01 515.06,171.01 516.14,171.00 517.22,171.00 518.30,171.00 519.37,170.99 520.45,170.99 521.53,170.98 522.61,170.98 523.68,170.98 524.76,170.97 525.84,170.97 526.91,170.97 527.99,170.96 529.07,170.96 530.15,170.95 531.23,170.95 532.30,170.95 533.38,170.94 534.46,170.94 535.54,170.93 536.61,170.93 537.69,170.92 538.77,170.92 539.85,170.92 540.92,170.91 542.00,170.91" fill="none" stroke="#0000ff" stroke-width="1.6"/>
<g fill="#0000ff"><circle cx="326.50" cy="177.20" r="3.2"/><circle cx="329.09" cy="174.76" r="3.2"/><circle cx="332.32" cy="172.95" r="3.2"/><circle cx="336.63" cy="171.97" r="3.2"/><circle cx="340.94" cy="171.81" r="3.2"/><circle cx="345.25" cy="171.75" r="3.2"/><circle cx="349.56" cy="171.71" r="3.2"/><circle cx="353.87" cy="171.67" r="3.2"/><circle cx="358.18" cy="171.64" r="3.2"/><circle cx="362.49" cy="171.61" r="3.2"/><circle cx="366.80" cy="171.58" r="3.2"/><circle cx="371.11" cy="171.55" r="3.2"/><circle cx="375.42" cy="171.52" r="3.2"/><circle cx="379.73" cy="171.49" r="3.2"/><circle cx="384.04" cy="171.47" r="3.2"/><circle cx="388.35" cy="171.44" r="3.2"/><circle cx="392.66" cy="171.42" r="3.2"/><circle cx="396.97" cy="171.40" r="3.2"/><circle cx="401.28" cy="171.38" r="3.2"/><circle cx="405.59" cy="171.36" r="3.2"/><circle cx="409.90" cy="171.34" r="3.2"/><circle cx="414.21" cy="171.32" r="3.2"/><circle cx="418.52" cy="171.30" r="3.2"/><circle cx="422.83" cy="171.29" r="3.2"/><circle cx="427.14" cy="171.27" r="3.2"/><circle cx="431.45" cy="171.25" r="3.2"/><circle cx="435.76" cy="171.24" r="3.2"/><circle cx="440.07" cy="171.23" r="3.2"/><circle cx="444.38" cy="171.21" r="3.2"/><circle cx="448.69" cy="171.20" r="3.2"/><circle cx="453.00" cy="171.19" r="3.2"/><circle cx="457.31" cy="171.17" r="3.2"/><circle cx="461.62" cy="171.16" r="3.2"/><circle cx="465.93" cy="171.15" r="3.2"/><circle cx="470.24" cy="171.14" r="3.2"/><circle cx="474.55" cy="171.12" r="3.2"/><circle cx="478.86" cy="171.11" r="3.2"/><circle cx="483.17" cy="171.10" r="3.2"/><circle cx="487.48" cy="171.09" r="3.2"/><circle cx="491.79" cy="171.08" r="3.2"/><circle cx="496.10" cy="171.06" r="3.2"/><circle cx="500.41" cy="171.05" r="3.2"/><circle cx="504.72" cy="171.04" r="3.2"/><circle cx="509.03" cy="171.03" r="3.2"/><circle cx="513.34" cy="171.01" r="3.2"/><circle cx="517.65" cy="171.00" r="3.2"/><circle cx="521.96" cy="170.98" r="3.2"/><circle cx="526.27" cy="170.97" r="3.2"/><circle cx="530.58" cy="170.95" r="3.2"/><circle cx="534.89" cy="170.94" r="3.2"/><circle cx="539.20" cy="170.92" r="3.2"/></g>
<g fill="#fff"><circle cx="326.30" cy="177.00" r="0.85"/><circle cx="328.89" cy="174.56" r="0.85"/><circle cx="332.12" cy="172.75" r="0.85"/><circle cx="336.43" cy="171.77" r="0.85"/><circle cx="340.74" cy="171.61" r="0.85"/><circle cx="345.05" cy="171.55" r="0.85"/><circle cx="349.36" cy="171.51" r="0.85"/><circle cx="353.67" cy="171.47" r="0.85"/><circle cx="357.98" cy="171.44" r="0.85"/><circle cx="362.29" cy="171.41" r="0.85"/><circle cx="366.60" cy="171.38" r="0.85"/><circle cx="370.91" cy="171.35" r="0.85"/><circle cx="375.22" cy="171.32" r="0.85"/><circle cx="379.53" cy="171.29" r="0.85"/><circle cx="383.84" cy="171.27" r="0.85"/><circle cx="388.15" cy="171.24" r="0.85"/><circle cx="392.46" cy="171.22" r="0.85"/><circle cx="396.77" cy="171.20" r="0.85"/><circle cx="401.08" cy="171.18" r="0.85"/><circle cx="405.39" cy="171.16" r="0.85"/><circle cx="409.70" cy="171.14" r="0.85"/><circle cx="414.01" cy="171.12" r="0.85"/><circle cx="418.32" cy="171.10" r="0.85"/><circle cx="422.63" cy="171.09" r="0.85"/><circle cx="426.94" cy="171.07" r="0.85"/><circle cx="431.25" cy="171.05" r="0.85"/><circle cx="435.56" cy="171.04" r="0.85"/><circle cx="439.87" cy="171.03" r="0.85"/><circle cx="444.18" cy="171.01" r="0.85"/><circle cx="448.49" cy="171.00" r="0.85"/><circle cx="452.80" cy="170.99" r="0.85"/><circle cx="457.11" cy="170.97" r="0.85"/><circle cx="461.42" cy="170.96" r="0.85"/><circle cx="465.73" cy="170.95" r="0.85"/><circle cx="470.04" cy="170.94" r="0.85"/><circle cx="474.35" cy="170.92" r="0.85"/><circle cx="478.66" cy="170.91" r="0.85"/><circle cx="482.97" cy="170.90" r="0.85"/><circle cx="487.28" cy="170.89" r="0.85"/><circle cx="491.59" cy="170.88" r="0.85"/><circle cx="495.90" cy="170.86" r="0.85"/><circle cx="500.21" cy="170.85" r="0.85"/><circle cx="504.52" cy="170.84" r="0.85"/><circle cx="508.83" cy="170.83" r="0.85"/><circle cx="513.14" cy="170.81" r="0.85"/><circle cx="517.45" cy="170.80" r="0.85"/><circle cx="521.76" cy="170.78" r="0.85"/><circle cx="526.07" cy="170.77" r="0.85"/><circle cx="530.38" cy="170.75" r="0.85"/><circle cx="534.69" cy="170.74" r="0.85"/><circle cx="539.00" cy="170.72" r="0.85"/></g>
<polyline points="326.50,177.20 327.58,176.17 328.65,175.17 329.73,174.21 330.81,173.27 331.89,172.34 332.96,171.43 334.04,170.53 335.12,169.63 336.20,168.75 337.27,167.86 338.35,166.98 339.43,166.10 340.51,165.23 341.58,164.36 342.66,163.50 343.74,162.65 344.82,161.80 345.89,160.97 346.97,160.15 348.05,159.34 349.13,158.53 350.20,157.71 351.28,156.89 352.36,156.09 353.44,155.30 354.51,154.54 355.59,153.82 356.67,153.14 357.75,152.52 358.82,151.91 359.90,151.32 360.98,150.75 362.06,150.22 363.13,149.74 364.21,149.32 365.29,148.98 366.37,148.69 367.44,148.43 368.52,148.18 369.60,147.95 370.68,147.76 371.75,147.59 372.83,147.45 373.91,147.34 374.99,147.25 376.06,147.17 377.14,147.10 378.22,147.04 379.30,146.98 380.38,146.93 381.45,146.89 382.53,146.85 383.61,146.82 384.69,146.79 385.76,146.76 386.84,146.74 387.92,146.72 389.00,146.69 390.07,146.67 391.15,146.65 392.23,146.62 393.31,146.60 394.38,146.58 395.46,146.55 396.54,146.53 397.62,146.50 398.69,146.48 399.77,146.45 400.85,146.43 401.93,146.41 403.00,146.38 404.08,146.36 405.16,146.33 406.24,146.31 407.31,146.29 408.39,146.26 409.47,146.24 410.55,146.21 411.62,146.19 412.70,146.17 413.78,146.14 414.86,146.12 415.93,146.10 417.01,146.08 418.09,146.05 419.17,146.03 420.24,146.01 421.32,145.99 422.40,145.96 423.48,145.94 424.55,145.92 425.63,145.90 426.71,145.88 427.79,145.86 428.86,145.84 429.94,145.81 431.02,145.79 432.10,145.77 433.17,145.75 434.25,145.73 435.33,145.72 436.41,145.70 437.48,145.68 438.56,145.66 439.64,145.64 440.72,145.62 441.79,145.60 442.87,145.58 443.95,145.56 445.02,145.55 446.10,145.53 447.18,145.51 448.26,145.49 449.34,145.47 450.41,145.46 451.49,145.44 452.57,145.42 453.64,145.40 454.72,145.39 455.80,145.37 456.88,145.35 457.96,145.33 459.03,145.32 460.11,145.30 461.19,145.28 462.26,145.27 463.34,145.25 464.42,145.23 465.50,145.22 466.58,145.20 467.65,145.18 468.73,145.17 469.81,145.15 470.88,145.14 471.96,145.12 473.04,145.10 474.12,145.09 475.20,145.07 476.27,145.06 477.35,145.04 478.43,145.02 479.50,145.01 480.58,144.99 481.66,144.98 482.74,144.96 483.82,144.94 484.89,144.93 485.97,144.91 487.05,144.90 488.12,144.88 489.20,144.87 490.28,144.85 491.36,144.84 492.44,144.82 493.51,144.81 494.59,144.79 495.67,144.78 496.75,144.76 497.82,144.74 498.90,144.73 499.98,144.71 501.06,144.70 502.13,144.68 503.21,144.67 504.29,144.65 505.37,144.64 506.44,144.62 507.52,144.61 508.60,144.59 509.68,144.58 510.75,144.56 511.83,144.55 512.91,144.53 513.99,144.52 515.06,144.50 516.14,144.49 517.22,144.47 518.30,144.46 519.37,144.44 520.45,144.43 521.53,144.41 522.61,144.39 523.68,144.38 524.76,144.36 525.84,144.35 526.91,144.33 527.99,144.32 529.07,144.30 530.15,144.29 531.23,144.27 532.30,144.25 533.38,144.24 534.46,144.22 535.54,144.21 536.61,144.19 537.69,144.18 538.77,144.16 539.85,144.14 540.92,144.13 542.00,144.11" fill="none" stroke="#00ffff" stroke-width="1.6"/>
<g fill="#00ffff"><circle cx="326.50" cy="177.20" r="3.2"/><circle cx="329.09" cy="174.78" r="3.2"/><circle cx="332.32" cy="171.97" r="3.2"/><circle cx="336.63" cy="168.39" r="3.2"/><circle cx="340.94" cy="164.88" r="3.2"/><circle cx="345.25" cy="161.47" r="3.2"/><circle cx="349.56" cy="158.20" r="3.2"/><circle cx="353.87" cy="154.99" r="3.2"/><circle cx="358.18" cy="152.27" r="3.2"/><circle cx="362.49" cy="150.02" r="3.2"/><circle cx="366.80" cy="148.58" r="3.2"/><circle cx="371.11" cy="147.68" r="3.2"/><circle cx="375.42" cy="147.22" r="3.2"/><circle cx="379.73" cy="146.96" r="3.2"/><circle cx="384.04" cy="146.81" r="3.2"/><circle cx="388.35" cy="146.71" r="3.2"/><circle cx="392.66" cy="146.61" r="3.2"/><circle cx="396.97" cy="146.52" r="3.2"/><circle cx="401.28" cy="146.42" r="3.2"/><circle cx="405.59" cy="146.32" r="3.2"/><circle cx="409.90" cy="146.23" r="3.2"/><circle cx="414.21" cy="146.13" r="3.2"/><circle cx="418.52" cy="146.04" r="3.2"/><circle cx="422.83" cy="145.95" r="3.2"/><circle cx="427.14" cy="145.87" r="3.2"/><circle cx="431.45" cy="145.79" r="3.2"/><circle cx="435.76" cy="145.71" r="3.2"/><circle cx="440.07" cy="145.63" r="3.2"/><circle cx="444.38" cy="145.56" r="3.2"/><circle cx="448.69" cy="145.49" r="3.2"/><circle cx="453.00" cy="145.41" r="3.2"/><circle cx="457.31" cy="145.35" r="3.2"/><circle cx="461.62" cy="145.28" r="3.2"/><circle cx="465.93" cy="145.21" r="3.2"/><circle cx="470.24" cy="145.15" r="3.2"/><circle cx="474.55" cy="145.08" r="3.2"/><circle cx="478.86" cy="145.02" r="3.2"/><circle cx="483.17" cy="144.95" r="3.2"/><circle cx="487.48" cy="144.89" r="3.2"/><circle cx="491.79" cy="144.83" r="3.2"/><circle cx="496.10" cy="144.77" r="3.2"/><circle cx="500.41" cy="144.71" r="3.2"/><circle cx="504.72" cy="144.65" r="3.2"/><circle cx="509.03" cy="144.59" r="3.2"/><circle cx="513.34" cy="144.53" r="3.2"/><circle cx="517.65" cy="144.47" r="3.2"/><circle cx="521.96" cy="144.40" r="3.2"/><circle cx="526.27" cy="144.34" r="3.2"/><circle cx="530.58" cy="144.28" r="3.2"/><circle cx="534.89" cy="144.22" r="3.2"/><circle cx="539.20" cy="144.15" r="3.2"/></g>
<g fill="#fff"><circle cx="326.30" cy="177.00" r="0.85"/><circle cx="328.89" cy="174.58" r="0.85"/><circle cx="332.12" cy="171.77" r="0.85"/><circle cx="336.43" cy="168.19" r="0.85"/><circle cx="340.74" cy="164.68" r="0.85"/><circle cx="345.05" cy="161.27" r="0.85"/><circle cx="349.36" cy="158.00" r="0.85"/><circle cx="353.67" cy="154.79" r="0.85"/><circle cx="357.98" cy="152.07" r="0.85"/><circle cx="362.29" cy="149.82" r="0.85"/><circle cx="366.60" cy="148.38" r="0.85"/><circle cx="370.91" cy="147.48" r="0.85"/><circle cx="375.22" cy="147.02" r="0.85"/><circle cx="379.53" cy="146.76" r="0.85"/><circle cx="383.84" cy="146.61" r="0.85"/><circle cx="388.15" cy="146.51" r="0.85"/><circle cx="392.46" cy="146.41" r="0.85"/><circle cx="396.77" cy="146.32" r="0.85"/><circle cx="401.08" cy="146.22" r="0.85"/><circle cx="405.39" cy="146.12" r="0.85"/><circle cx="409.70" cy="146.03" r="0.85"/><circle cx="414.01" cy="145.93" r="0.85"/><circle cx="418.32" cy="145.84" r="0.85"/><circle cx="422.63" cy="145.75" r="0.85"/><circle cx="426.94" cy="145.67" r="0.85"/><circle cx="431.25" cy="145.59" r="0.85"/><circle cx="435.56" cy="145.51" r="0.85"/><circle cx="439.87" cy="145.43" r="0.85"/><circle cx="444.18" cy="145.36" r="0.85"/><circle cx="448.49" cy="145.29" r="0.85"/><circle cx="452.80" cy="145.21" r="0.85"/><circle cx="457.11" cy="145.15" r="0.85"/><circle cx="461.42" cy="145.08" r="0.85"/><circle cx="465.73" cy="145.01" r="0.85"/><circle cx="470.04" cy="144.95" r="0.85"/><circle cx="474.35" cy="144.88" r="0.85"/><circle cx="478.66" cy="144.82" r="0.85"/><circle cx="482.97" cy="144.75" r="0.85"/><circle cx="487.28" cy="144.69" r="0.85"/><circle cx="491.59" cy="144.63" r="0.85"/><circle cx="495.90" cy="144.57" r="0.85"/><circle cx="500.21" cy="144.51" r="0.85"/><circle cx="504.52" cy="144.45" r="0.85"/><circle cx="508.83" cy="144.39" r="0.85"/><circle cx="513.14" cy="144.33" r="0.85"/><circle cx="517.45" cy="144.27" r="0.85"/><circle cx="521.76" cy="144.20" r="0.85"/><circle cx="526.07" cy="144.14" r="0.85"/><circle cx="530.38" cy="144.08" r="0.85"/><circle cx="534.69" cy="144.02" r="0.85"/><circle cx="539.00" cy="143.95" r="0.85"/></g>
<polyline points="326.50,177.20 327.58,176.17 328.65,175.17 329.73,174.21 330.81,173.26 331.89,172.32 332.96,171.39 334.04,170.47 335.12,169.56 336.20,168.66 337.27,167.76 338.35,166.87 339.43,165.99 340.51,165.11 341.58,164.23 342.66,163.35 343.74,162.47 344.82,161.59 345.89,160.71 346.97,159.82 348.05,158.93 349.13,158.04 350.20,157.14 351.28,156.25 352.36,155.36 353.44,154.46 354.51,153.57 355.59,152.68 356.67,151.79 357.75,150.90 358.82,150.01 359.90,149.13 360.98,148.24 362.06,147.36 363.13,146.48 364.21,145.61 365.29,144.73 366.37,143.86 367.44,142.99 368.52,142.13 369.60,141.27 370.68,140.41 371.75,139.56 372.83,138.71 373.91,137.86 374.99,137.02 376.06,136.17 377.14,135.34 378.22,134.50 379.30,133.67 380.38,132.84 381.45,132.02 382.53,131.20 383.61,130.39 384.69,129.58 385.76,128.77 386.84,127.96 387.92,127.16 389.00,126.38 390.07,125.60 391.15,124.83 392.23,124.07 393.31,123.32 394.38,122.58 395.46,121.85 396.54,121.12 397.62,120.40 398.69,119.68 399.77,118.97 400.85,118.25 401.93,117.54 403.00,116.82 404.08,116.10 405.16,115.37 406.24,114.64 407.31,113.91 408.39,113.18 409.47,112.45 410.55,111.72 411.62,110.99 412.70,110.26 413.78,109.52 414.86,108.79 415.93,108.05 417.01,107.32 418.09,106.58 419.17,105.84 420.24,105.09 421.32,104.35 422.40,103.59 423.48,102.84 424.55,102.08 425.63,101.32 426.71,100.57 427.79,99.81 428.86,99.05 429.94,98.30 431.02,97.56 432.10,96.82 433.17,96.09 434.25,95.36 435.33,94.63 436.41,93.90 437.48,93.17 438.56,92.44 439.64,91.71 440.72,90.99 441.79,90.27 442.87,89.56 443.95,88.87 445.02,88.18 446.10,87.51 447.18,86.86 448.26,86.22 449.34,85.60 450.41,84.99 451.49,84.39 452.57,83.79 453.64,83.22 454.72,82.66 455.80,82.14 456.88,81.64 457.96,81.18 459.03,80.75 460.11,80.33 461.19,79.93 462.26,79.55 463.34,79.18 464.42,78.84 465.50,78.51 466.58,78.21 467.65,77.93 468.73,77.67 469.81,77.42 470.88,77.17 471.96,76.94 473.04,76.71 474.12,76.49 475.20,76.28 476.27,76.07 477.35,75.88 478.43,75.69 479.50,75.52 480.58,75.35 481.66,75.18 482.74,75.03 483.82,74.89 484.89,74.75 485.97,74.61 487.05,74.48 488.12,74.35 489.20,74.23 490.28,74.11 491.36,74.00 492.44,73.89 493.51,73.78 494.59,73.68 495.67,73.59 496.75,73.50 497.82,73.42 498.90,73.34 499.98,73.28 501.06,73.22 502.13,73.16 503.21,73.10 504.29,73.05 505.37,73.00 506.44,72.96 507.52,72.91 508.60,72.87 509.68,72.83 510.75,72.79 511.83,72.76 512.91,72.72 513.99,72.68 515.06,72.65 516.14,72.61 517.22,72.57 518.30,72.53 519.37,72.49 520.45,72.45 521.53,72.41 522.61,72.37 523.68,72.33 524.76,72.29 525.84,72.25 526.91,72.20 527.99,72.16 529.07,72.12 530.15,72.08 531.23,72.04 532.30,72.00 533.38,71.96 534.46,71.92 535.54,71.88 536.61,71.84 537.69,71.80 538.77,71.76 539.85,71.72 540.92,71.68 542.00,71.64" fill="none" stroke="#ff00ff" stroke-width="1.6"/>
<g fill="#ff00ff"><circle cx="326.50" cy="177.20" r="3.2"/><circle cx="329.09" cy="174.78" r="3.2"/><circle cx="332.32" cy="171.94" r="3.2"/><circle cx="336.63" cy="168.30" r="3.2"/><circle cx="340.94" cy="164.75" r="3.2"/><circle cx="345.25" cy="161.24" r="3.2"/><circle cx="349.56" cy="157.68" r="3.2"/><circle cx="353.87" cy="154.11" r="3.2"/><circle cx="358.18" cy="150.55" r="3.2"/><circle cx="362.49" cy="147.01" r="3.2"/><circle cx="366.80" cy="143.51" r="3.2"/><circle cx="371.11" cy="140.07" r="3.2"/><circle cx="375.42" cy="136.68" r="3.2"/><circle cx="379.73" cy="133.34" r="3.2"/><circle cx="384.04" cy="130.06" r="3.2"/><circle cx="388.35" cy="126.85" r="3.2"/><circle cx="392.66" cy="123.77" r="3.2"/><circle cx="396.97" cy="120.83" r="3.2"/><circle cx="401.28" cy="117.97" r="3.2"/><circle cx="405.59" cy="115.08" r="3.2"/><circle cx="409.90" cy="112.16" r="3.2"/><circle cx="414.21" cy="109.23" r="3.2"/><circle cx="418.52" cy="106.28" r="3.2"/><circle cx="422.83" cy="103.29" r="3.2"/><circle cx="427.14" cy="100.26" r="3.2"/><circle cx="431.45" cy="97.26" r="3.2"/><circle cx="435.76" cy="94.34" r="3.2"/><circle cx="440.07" cy="91.42" r="3.2"/><circle cx="444.38" cy="88.59" r="3.2"/><circle cx="448.69" cy="85.97" r="3.2"/><circle cx="453.00" cy="83.56" r="3.2"/><circle cx="457.31" cy="81.45" r="3.2"/><circle cx="461.62" cy="79.78" r="3.2"/><circle cx="465.93" cy="78.39" r="3.2"/><circle cx="470.24" cy="77.32" r="3.2"/><circle cx="474.55" cy="76.40" r="3.2"/><circle cx="478.86" cy="75.62" r="3.2"/><circle cx="483.17" cy="74.97" r="3.2"/><circle cx="487.48" cy="74.43" r="3.2"/><circle cx="491.79" cy="73.95" r="3.2"/><circle cx="496.10" cy="73.55" r="3.2"/><circle cx="500.41" cy="73.25" r="3.2"/><circle cx="504.72" cy="73.03" r="3.2"/><circle cx="509.03" cy="72.86" r="3.2"/><circle cx="513.34" cy="72.70" r="3.2"/><circle cx="517.65" cy="72.56" r="3.2"/><circle cx="521.96" cy="72.39" r="3.2"/><circle cx="526.27" cy="72.23" r="3.2"/><circle cx="530.58" cy="72.07" r="3.2"/><circle cx="534.89" cy="71.91" r="3.2"/><circle cx="539.20" cy="71.75" r="3.2"/></g>
<g fill="#fff"><circle cx="326.30" cy="177.00" r="0.85"/><circle cx="328.89" cy="174.58" r="0.85"/><circle cx="332.12" cy="171.74" r="0.85"/><circle cx="336.43" cy="168.10" r="0.85"/><circle cx="340.74" cy="164.55" r="0.85"/><circle cx="345.05" cy="161.04" r="0.85"/><circle cx="349.36" cy="157.48" r="0.85"/><circle cx="353.67" cy="153.91" r="0.85"/><circle cx="357.98" cy="150.35" r="0.85"/><circle cx="362.29" cy="146.81" r="0.85"/><circle cx="366.60" cy="143.31" r="0.85"/><circle cx="370.91" cy="139.87" r="0.85"/><circle cx="375.22" cy="136.48" r="0.85"/><circle cx="379.53" cy="133.14" r="0.85"/><circle cx="383.84" cy="129.86" r="0.85"/><circle cx="388.15" cy="126.65" r="0.85"/><circle cx="392.46" cy="123.57" r="0.85"/><circle cx="396.77" cy="120.63" r="0.85"/><circle cx="401.08" cy="117.77" r="0.85"/><circle cx="405.39" cy="114.88" r="0.85"/><circle cx="409.70" cy="111.96" r="0.85"/><circle cx="414.01" cy="109.03" r="0.85"/><circle cx="418.32" cy="106.08" r="0.85"/><circle cx="422.63" cy="103.09" r="0.85"/><circle cx="426.94" cy="100.06" r="0.85"/><circle cx="431.25" cy="97.06" r="0.85"/><circle cx="435.56" cy="94.14" r="0.85"/><circle cx="439.87" cy="91.22" r="0.85"/><circle cx="444.18" cy="88.39" r="0.85"/><circle cx="448.49" cy="85.77" r="0.85"/><circle cx="452.80" cy="83.36" r="0.85"/><circle cx="457.11" cy="81.25" r="0.85"/><circle cx="461.42" cy="79.58" r="0.85"/><circle cx="465.73" cy="78.19" r="0.85"/><circle cx="470.04" cy="77.12" r="0.85"/><circle cx="474.35" cy="76.20" r="0.85"/><circle cx="478.66" cy="75.42" r="0.85"/><circle cx="482.97" cy="74.77" r="0.85"/><circle cx="487.28" cy="74.23" r="0.85"/><circle cx="491.59" cy="73.75" r="0.85"/><circle cx="495.90" cy="73.35" r="0.85"/><circle cx="500.21" cy="73.05" r="0.85"/><circle cx="504.52" cy="72.83" r="0.85"/><circle cx="508.83" cy="72.66" r="0.85"/><circle cx="513.14" cy="72.50" r="0.85"/><circle cx="517.45" cy="72.36" r="0.85"/><circle cx="521.76" cy="72.19" r="0.85"/><circle cx="526.07" cy="72.03" r="0.85"/><circle cx="530.38" cy="71.87" r="0.85"/><circle cx="534.69" cy="71.71" r="0.85"/><circle cx="539.00" cy="71.55" r="0.85"/></g>
<polyline points="326.50,177.20 327.58,176.06 328.65,174.97 329.73,173.95 330.81,172.97 331.89,172.02 332.96,171.09 334.04,170.18 335.12,169.27 336.20,168.37 337.27,167.46 338.35,166.54 339.43,165.64 340.51,164.75 341.58,163.86 342.66,162.97 343.74,162.09 344.82,161.20 345.89,160.32 346.97,159.42 348.05,158.52 349.13,157.62 350.20,156.70 351.28,155.79 352.36,154.86 353.44,153.94 354.51,153.02 355.59,152.11 356.67,151.19 357.75,150.29 358.82,149.39 359.90,148.50 360.98,147.62 362.06,146.74 363.13,145.87 364.21,145.00 365.29,144.13 366.37,143.26 367.44,142.40 368.52,141.53 369.60,140.66 370.68,139.79 371.75,138.91 372.83,138.04 373.91,137.17 374.99,136.29 376.06,135.42 377.14,134.55 378.22,133.68 379.30,132.81 380.38,131.94 381.45,131.08 382.53,130.21 383.61,129.35 384.69,128.50 385.76,127.65 386.84,126.80 387.92,125.95 389.00,125.10 390.07,124.25 391.15,123.41 392.23,122.56 393.31,121.71 394.38,120.87 395.46,120.02 396.54,119.18 397.62,118.34 398.69,117.49 399.77,116.64 400.85,115.80 401.93,114.94 403.00,114.09 404.08,113.23 405.16,112.37 406.24,111.51 407.31,110.65 408.39,109.79 409.47,108.93 410.55,108.07 411.62,107.22 412.70,106.36 413.78,105.51 414.86,104.66 415.93,103.80 417.01,102.95 418.09,102.09 419.17,101.23 420.24,100.38 421.32,99.53 422.40,98.68 423.48,97.84 424.55,97.00 425.63,96.17 426.71,95.35 427.79,94.54 428.86,93.74 429.94,92.94 431.02,92.15 432.10,91.37 433.17,90.60 434.25,89.83 435.33,89.07 436.41,88.31 437.48,87.55 438.56,86.80 439.64,86.04 440.72,85.29 441.79,84.55 442.87,83.82 443.95,83.09 445.02,82.37 446.10,81.65 447.18,80.94 448.26,80.22 449.34,79.51 450.41,78.79 451.49,78.07 452.57,77.35 453.64,76.62 454.72,75.88 455.80,75.14 456.88,74.38 457.96,73.61 459.03,72.82 460.11,72.01 461.19,71.19 462.26,70.37 463.34,69.54 464.42,68.73 465.50,67.92 466.58,67.13 467.65,66.36 468.73,65.61 469.81,64.88 470.88,64.15 471.96,63.43 473.04,62.72 474.12,62.01 475.20,61.32 476.27,60.62 477.35,59.93 478.43,59.24 479.50,58.56 480.58,57.87 481.66,57.18 482.74,56.50 483.82,55.81 484.89,55.11 485.97,54.42 487.05,53.73 488.12,53.04 489.20,52.35 490.28,51.66 491.36,50.98 492.44,50.29 493.51,49.61 494.59,48.93 495.67,48.26 496.75,47.58 497.82,46.91 498.90,46.25 499.98,45.58 501.06,44.93 502.13,44.27 503.21,43.62 504.29,42.97 505.37,42.32 506.44,41.67 507.52,41.03 508.60,40.39 509.68,39.75 510.75,39.11 511.83,38.48 512.91,37.84 513.99,37.21 515.06,36.58 516.14,35.96 517.22,35.34 518.30,34.71 519.37,34.09 520.45,33.48 521.53,32.86 522.61,32.25 523.68,31.65 524.76,31.04 525.84,30.45 526.91,29.85 527.99,29.25 529.07,28.66 530.15,28.07 531.23,27.48 532.30,26.89 533.38,26.30 534.46,25.71 535.54,25.11 536.61,24.52 537.69,23.92 538.77,23.32 539.85,22.72 540.92,22.11 542.00,21.50" fill="none" stroke="#7410ec" stroke-width="1.6"/>
<g fill="#7410ec"><circle cx="326.50" cy="177.20" r="3.2"/><circle cx="329.09" cy="174.56" r="3.2"/><circle cx="332.32" cy="171.64" r="3.2"/><circle cx="336.63" cy="168.00" r="3.2"/><circle cx="340.94" cy="164.39" r="3.2"/><circle cx="345.25" cy="160.85" r="3.2"/><circle cx="349.56" cy="157.25" r="3.2"/><circle cx="353.87" cy="153.57" r="3.2"/><circle cx="358.18" cy="149.93" r="3.2"/><circle cx="362.49" cy="146.39" r="3.2"/><circle cx="366.80" cy="142.92" r="3.2"/><circle cx="371.11" cy="139.44" r="3.2"/><circle cx="375.42" cy="135.95" r="3.2"/><circle cx="379.73" cy="132.46" r="3.2"/><circle cx="384.04" cy="129.01" r="3.2"/><circle cx="388.35" cy="125.61" r="3.2"/><circle cx="392.66" cy="122.22" r="3.2"/><circle cx="396.97" cy="118.84" r="3.2"/><circle cx="401.28" cy="115.46" r="3.2"/><circle cx="405.59" cy="112.03" r="3.2"/><circle cx="409.90" cy="108.59" r="3.2"/><circle cx="414.21" cy="105.17" r="3.2"/><circle cx="418.52" cy="101.75" r="3.2"/><circle cx="422.83" cy="98.34" r="3.2"/><circle cx="427.14" cy="95.02" r="3.2"/><circle cx="431.45" cy="91.84" r="3.2"/><circle cx="435.76" cy="88.76" r="3.2"/><circle cx="440.07" cy="85.74" r="3.2"/><circle cx="444.38" cy="82.80" r="3.2"/><circle cx="448.69" cy="79.94" r="3.2"/><circle cx="453.00" cy="77.06" r="3.2"/><circle cx="457.31" cy="74.08" r="3.2"/><circle cx="461.62" cy="70.86" r="3.2"/><circle cx="465.93" cy="67.60" r="3.2"/><circle cx="470.24" cy="64.58" r="3.2"/><circle cx="474.55" cy="61.73" r="3.2"/><circle cx="478.86" cy="58.97" r="3.2"/><circle cx="483.17" cy="56.22" r="3.2"/><circle cx="487.48" cy="53.45" r="3.2"/><circle cx="491.79" cy="50.70" r="3.2"/><circle cx="496.10" cy="47.99" r="3.2"/><circle cx="500.41" cy="45.32" r="3.2"/><circle cx="504.72" cy="42.71" r="3.2"/><circle cx="509.03" cy="40.13" r="3.2"/><circle cx="513.34" cy="37.59" r="3.2"/><circle cx="517.65" cy="35.09" r="3.2"/><circle cx="521.96" cy="32.62" r="3.2"/><circle cx="526.27" cy="30.21" r="3.2"/><circle cx="530.58" cy="27.83" r="3.2"/><circle cx="534.89" cy="25.47" r="3.2"/><circle cx="539.20" cy="23.08" r="3.2"/></g>
<g fill="#fff"><circle cx="326.30" cy="177.00" r="0.85"/><circle cx="328.89" cy="174.36" r="0.85"/><circle cx="332.12" cy="171.44" r="0.85"/><circle cx="336.43" cy="167.80" r="0.85"/><circle cx="340.74" cy="164.19" r="0.85"/><circle cx="345.05" cy="160.65" r="0.85"/><circle cx="349.36" cy="157.05" r="0.85"/><circle cx="353.67" cy="153.37" r="0.85"/><circle cx="357.98" cy="149.73" r="0.85"/><circle cx="362.29" cy="146.19" r="0.85"/><circle cx="366.60" cy="142.72" r="0.85"/><circle cx="370.91" cy="139.24" r="0.85"/><circle cx="375.22" cy="135.75" r="0.85"/><circle cx="379.53" cy="132.26" r="0.85"/><circle cx="383.84" cy="128.81" r="0.85"/><circle cx="388.15" cy="125.41" r="0.85"/><circle cx="392.46" cy="122.02" r="0.85"/><circle cx="396.77" cy="118.64" r="0.85"/><circle cx="401.08" cy="115.26" r="0.85"/><circle cx="405.39" cy="111.83" r="0.85"/><circle cx="409.70" cy="108.39" r="0.85"/><circle cx="414.01" cy="104.97" r="0.85"/><circle cx="418.32" cy="101.55" r="0.85"/><circle cx="422.63" cy="98.14" r="0.85"/><circle cx="426.94" cy="94.82" r="0.85"/><circle cx="431.25" cy="91.64" r="0.85"/><circle cx="435.56" cy="88.56" r="0.85"/><circle cx="439.87" cy="85.54" r="0.85"/><circle cx="444.18" cy="82.60" r="0.85"/><circle cx="448.49" cy="79.74" r="0.85"/><circle cx="452.80" cy="76.86" r="0.85"/><circle cx="457.11" cy="73.88" r="0.85"/><circle cx="461.42" cy="70.66" r="0.85"/><circle cx="465.73" cy="67.40" r="0.85"/><circle cx="470.04" cy="64.38" r="0.85"/><circle cx="474.35" cy="61.53" r="0.85"/><circle cx="478.66" cy="58.77" r="0.85"/><circle cx="482.97" cy="56.02" r="0.85"/><circle cx="487.28" cy="53.25" r="0.85"/><circle cx="491.59" cy="50.50" r="0.85"/><circle cx="495.90" cy="47.79" r="0.85"/><circle cx="500.21" cy="45.12" r="0.85"/><circle cx="504.52" cy="42.51" r="0.85"/><circle cx="508.83" cy="39.93" r="0.85"/><circle cx="513.14" cy="37.39" r="0.85"/><circle cx="517.45" cy="34.89" r="0.85"/><circle cx="521.76" cy="32.42" r="0.85"/><circle cx="526.07" cy="30.01" r="0.85"/><circle cx="530.38" cy="27.63" r="0.85"/><circle cx="534.69" cy="25.27" r="0.85"/><circle cx="539.00" cy="22.88" r="0.85"/></g>
</g>
<rect x="315.5" y="5.0" width="226.8" height="182.2" fill="none" stroke="#000" stroke-width="1.8"/>
<line x1="326.50" y1="187.2" x2="326.50" y2="183.70" stroke="#000" stroke-width="1.3"/>
<line x1="348.05" y1="187.2" x2="348.05" y2="185.00" stroke="#000" stroke-width="1.3"/>
<line x1="369.60" y1="187.2" x2="369.60" y2="183.70" stroke="#000" stroke-width="1.3"/>
<line x1="391.15" y1="187.2" x2="391.15" y2="185.00" stroke="#000" stroke-width="1.3"/>
<line x1="412.70" y1="187.2" x2="412.70" y2="183.70" stroke="#000" stroke-width="1.3"/>
<line x1="434.25" y1="187.2" x2="434.25" y2="185.00" stroke="#000" stroke-width="1.3"/>
<line x1="455.80" y1="187.2" x2="455.80" y2="183.70" stroke="#000" stroke-width="1.3"/>
<line x1="477.35" y1="187.2" x2="477.35" y2="185.00" stroke="#000" stroke-width="1.3"/>
<line x1="498.90" y1="187.2" x2="498.90" y2="183.70" stroke="#000" stroke-width="1.3"/>
<line x1="520.45" y1="187.2" x2="520.45" y2="185.00" stroke="#000" stroke-width="1.3"/>
<line x1="542.00" y1="187.2" x2="542.00" y2="183.70" stroke="#000" stroke-width="1.3"/>
<line x1="315.5" y1="177.20" x2="319.0" y2="177.20" stroke="#000" stroke-width="1.3"/>
<line x1="315.5" y1="156.90" x2="319.0" y2="156.90" stroke="#000" stroke-width="1.3"/>
<line x1="315.5" y1="136.60" x2="319.0" y2="136.60" stroke="#000" stroke-width="1.3"/>
<line x1="315.5" y1="116.30" x2="319.0" y2="116.30" stroke="#000" stroke-width="1.3"/>
<line x1="315.5" y1="96.00" x2="319.0" y2="96.00" stroke="#000" stroke-width="1.3"/>
<line x1="315.5" y1="75.70" x2="319.0" y2="75.70" stroke="#000" stroke-width="1.3"/>
<line x1="315.5" y1="55.40" x2="319.0" y2="55.40" stroke="#000" stroke-width="1.3"/>
<line x1="315.5" y1="35.10" x2="319.0" y2="35.10" stroke="#000" stroke-width="1.3"/>
<line x1="315.5" y1="14.80" x2="319.0" y2="14.80" stroke="#000" stroke-width="1.3"/>
<text x="326.50" y="200.8" font-size="12" font-weight="bold" text-anchor="middle">0</text>
<text x="369.60" y="200.8" font-size="12" font-weight="bold" text-anchor="middle">2</text>
<text x="412.70" y="200.8" font-size="12" font-weight="bold" text-anchor="middle">4</text>
<text x="455.80" y="200.8" font-size="12" font-weight="bold" text-anchor="middle">6</text>
<text x="498.90" y="200.8" font-size="12" font-weight="bold" text-anchor="middle">8</text>
<text x="542.00" y="200.8" font-size="12" font-weight="bold" text-anchor="middle">10</text>
<text x="311.2" y="181.20" font-size="12" font-weight="bold" text-anchor="end">0</text>
<text x="311.2" y="160.90" font-size="12" font-weight="bold" text-anchor="end">10</text>
<text x="311.2" y="140.60" font-size="12" font-weight="bold" text-anchor="end">20</text>
<text x="311.2" y="120.30" font-size="12" font-weight="bold" text-anchor="end">30</text>
<text x="311.2" y="100.00" font-size="12" font-weight="bold" text-anchor="end">40</text>
<text x="311.2" y="79.70" font-size="12" font-weight="bold" text-anchor="end">50</text>
<text x="311.2" y="59.40" font-size="12" font-weight="bold" text-anchor="end">60</text>
<text x="311.2" y="39.10" font-size="12" font-weight="bold" text-anchor="end">70</text>
<text x="311.2" y="18.80" font-size="12" font-weight="bold" text-anchor="end">80</text>
<text x="428.7" y="216.1" font-size="16" font-weight="bold" text-anchor="middle" textLength="117" lengthAdjust="spacingAndGlyphs">Drain Voltage (V)</text>
<text transform="translate(294.6,96.0) rotate(-90)" font-size="16" font-weight="bold" text-anchor="middle" textLength="162.8" lengthAdjust="spacingAndGlyphs">Drain Current (mA/mm)</text>
<text x="335.9" y="35.4" font-size="20.7" textLength="25.8" lengthAdjust="spacingAndGlyphs">(b)</text>
<text x="330.6" y="87.2" font-size="11.25" font-weight="bold">p-GaN Conc.</text>
<text y="103" font-size="11.2" font-weight="bold"><tspan x="333.4">2</tspan><tspan x="340.8">×</tspan><tspan x="350.3">10</tspan><tspan x="362" font-size="7" dy="-5">18</tspan><tspan x="370.4" dy="5">cm</tspan><tspan x="386.4" font-size="7.2" dy="-5">-3</tspan></text>
<text x="499.1" y="91.9" font-size="11.9" font-weight="bold" fill="#1c1ce8" textLength="27.6" lengthAdjust="spacingAndGlyphs">2.25V</text>
<text x="499.1" y="133.5" font-size="12.1" font-weight="bold" fill="#1c1ce8" textLength="30" lengthAdjust="spacingAndGlyphs">0.00 V</text>
<text x="505.5" y="105.7" font-size="7.1" font-weight="bold" textLength="14.5" lengthAdjust="spacingAndGlyphs">Step</text>
<text x="502" y="115.8" font-size="7.3" font-weight="bold" textLength="20.8" lengthAdjust="spacingAndGlyphs">0.25 V</text>
<line x1="490" y1="132" x2="490" y2="93" stroke="#f00" stroke-width="1.8"/>
<polygon points="486.7,95.5 493.3,95.5 490,83" fill="#f00"/>
<defs>
<linearGradient id="cbar" x1="0" y1="0" x2="0" y2="1">
<stop offset="0" stop-color="#ff0000"/>
<stop offset="0.07" stop-color="#ff2800"/>
<stop offset="0.15" stop-color="#ff8c00"/>
<stop offset="0.22" stop-color="#ffd000"/>
<stop offset="0.29" stop-color="#ffff00"/>
<stop offset="0.40" stop-color="#e8ff00"/>
<stop offset="0.48" stop-color="#90ff00"/>
<stop offset="0.55" stop-color="#20f000"/>
<stop offset="0.63" stop-color="#00e830"/>
<stop offset="0.70" stop-color="#00f890"/>
<stop offset="0.76" stop-color="#00ffe0"/>
<stop offset="0.81" stop-color="#00ffff"/>
<stop offset="0.87" stop-color="#00b8ff"/>
<stop offset="0.93" stop-color="#0050ff"/>
<stop offset="0.975" stop-color="#0008f0"/>
<stop offset="1" stop-color="#0000c8"/>
</linearGradient>
<linearGradient id="vcy" x1="0" y1="0" x2="1" y2="0">
<stop offset="0" stop-color="#0024ff" stop-opacity="0"/>
<stop offset="0.125" stop-color="#0a34ff"/>
<stop offset="0.333" stop-color="#1450ff"/>
<stop offset="0.458" stop-color="#1478ff"/>
<stop offset="0.583" stop-color="#10a8f8"/>
<stop offset="0.70" stop-color="#08d8f0"/>
<stop offset="0.78" stop-color="#10f0f0"/>
<stop offset="0.9375" stop-color="#18f4f0"/>
<stop offset="1" stop-color="#1090e0"/>
</linearGradient>
<linearGradient id="hcy" x1="0" y1="0" x2="1" y2="0">
<stop offset="0" stop-color="#38f4e4"/>
<stop offset="0.4" stop-color="#28e4f0"/>
<stop offset="0.7" stop-color="#1aa0ff"/>
<stop offset="1" stop-color="#0a40ff"/>
</linearGradient>
<linearGradient id="hglow" x1="0" y1="0" x2="0" y2="1">
<stop offset="0" stop-color="#10d8ff"/>
<stop offset="0.3" stop-color="#1890ff"/>
<stop offset="1" stop-color="#0030ff"/>
</linearGradient>
<filter id="bl1" x="-0.2" y="-0.5" width="1.4" height="2"><feGaussianBlur stdDeviation="1.0"/></filter>
<filter id="bl05"><feGaussianBlur stdDeviation="0.5"/></filter>
<filter id="bl07"><feGaussianBlur stdDeviation="0.7"/></filter>
</defs>
<rect x="7" y="223.5" width="251" height="201.2" fill="#0024ff"/>
<path d="M97,384 L249,384 L249,390 L240,391.2 L228,390.3 L215,392 L200,391 L188,392.6 L175,391.6 L160,393 L145,392 L130,392.4 L118,390.8 L108,391.5 L100,389 Z" fill="#1c5cff" opacity="0.85" filter="url(#bl07)"/>
<g fill="#2f7cff" opacity="0.55" filter="url(#bl07)"><ellipse cx="112" cy="387" rx="6" ry="1.6"/><ellipse cx="150" cy="387.5" rx="9" ry="1.8"/><ellipse cx="185" cy="387" rx="8" ry="1.6"/><ellipse cx="215" cy="387.2" rx="7" ry="1.6"/><ellipse cx="238" cy="386.6" rx="6" ry="1.4"/></g>
<rect x="88.8" y="224.5" width="9.6" height="159.3" fill="url(#vcy)"/>
<rect x="98.3" y="224.5" width="0.8" height="159" fill="#0818c8"/>
<polyline points="104,224.5 104,377.2 257,377.2" fill="none" stroke="#5a22b8" stroke-width="1.0"/>
<line x1="8" y1="383.1" x2="257" y2="383.1" stroke="#101850" stroke-width="0.9"/>
<rect x="96" y="382.4" width="150" height="2.6" fill="url(#hcy)" filter="url(#bl05)"/>
<line x1="200" y1="383.1" x2="257" y2="383.1" stroke="#101850" stroke-width="0.8" opacity="0.8"/>
<rect x="13.9" y="228.9" width="37.9" height="33.1" fill="#fff"/>
<text x="20.1" y="252.7" font-size="20.1" textLength="24.5" lengthAdjust="spacingAndGlyphs">(c)</text>
<rect x="171.5" y="246.9" width="28.2" height="79.3" fill="url(#cbar)"/>
<line x1="199.89999999999998" y1="246.9" x2="199.89999999999998" y2="326.2" stroke="#e8f0ff" stroke-width="0.8" opacity="0.8"/>
<text x="203.3" y="251.7" font-size="11.4" font-weight="bold" fill="#ffff2a">2.00</text>
<text x="203.3" y="267.3" font-size="11.4" font-weight="bold" fill="#ffff2a">1.60</text>
<text x="203.3" y="282.8" font-size="11.4" font-weight="bold" fill="#ffff2a">1.20</text>
<text x="203.3" y="298.4" font-size="11.4" font-weight="bold" fill="#ffff2a">0.80</text>
<text x="203.3" y="313.9" font-size="11.4" font-weight="bold" fill="#ffff2a">0.40</text>
<text x="203.3" y="329.5" font-size="11.4" font-weight="bold" fill="#ffff2a">0.00</text>
<text x="170.9" y="343.6" font-size="11.3" font-weight="bold" fill="#22e022">Current Density</text>
<text x="193.3" y="355.5" font-size="11" font-weight="bold" fill="#fff">× 10<tspan font-size="7.5" dy="-4.5">6</tspan><tspan dy="4.5"> A/cm</tspan><tspan font-size="7.5" dy="-4.5">2</tspan></text>
<text x="29" y="375.7" font-size="13.2" font-weight="bold" fill="#ffff2a" textLength="50.6" lengthAdjust="spacingAndGlyphs">CT-MOS</text>
<text y="409.6" font-size="12.5" font-weight="bold" fill="#ffff2a"><tspan x="19.6">@</tspan><tspan x="34.8" font-style="italic">V</tspan><tspan x="42.3" font-style="italic" font-size="9.0" dy="3">d</tspan><tspan x="50.2" dy="-3">=</tspan><tspan x="60.7">10</tspan><tspan x="75.6">V</tspan><tspan x="87.8" font-style="italic">V</tspan><tspan x="95" font-style="italic" font-size="9.0" dy="3">g</tspan><tspan x="102" dy="-3">–</tspan><tspan x="111.8" font-style="italic">V</tspan><tspan x="119.6" font-style="italic" font-size="9.0" dy="3">th</tspan><tspan x="131" dy="-3">=</tspan><tspan x="141.3">1.5</tspan><tspan x="157.8">V</tspan></text>
<rect x="7" y="223.5" width="251" height="201.2" fill="none" stroke="#000" stroke-width="2"/>
<rect x="291" y="223.8" width="246.5" height="197.8" fill="#0024ff"/>
<path d="M372,354 L400,377 L407,381.5 L394,381.6 L383,368 Z" fill="#2a80ff" opacity="0.6" filter="url(#bl07)"/>
<polyline points="291.8,284.6 391.5,380.4" fill="none" stroke="#0a16a8" stroke-width="1.1" filter="url(#bl05)"/>
<polyline points="291.8,299.5 378.5,380.4" fill="none" stroke="#0a16a8" stroke-width="1.1" filter="url(#bl05)"/>
<line x1="292" y1="380.4" x2="410" y2="380.4" stroke="#101850" stroke-width="0.9"/>
<path d="M404,383 L537,383 L537,390.5 Q480,391 440,389.5 Q415,388 404,385 Z" fill="url(#hglow)" opacity="0.9" filter="url(#bl05)"/>
<clipPath id="clipd"><rect x="292" y="224.8" width="244.5" height="195.8"/></clipPath>
<clipPath id="clipdiag"><polygon points="292,224.8 536.5,224.8 536.5,380.6 411.5,380.6 405,386 292,386"/></clipPath>
<g clip-path="url(#clipd)">
<rect x="404" y="382.0" width="133" height="2.6" fill="#10e0ff" filter="url(#bl05)"/>
<rect x="404" y="380.3" width="133" height="2.0" fill="#50f030"/>
<rect x="404" y="380.9" width="133" height="0.8" fill="#b0ff00"/>
<rect x="404" y="379.3" width="133" height="0.9" fill="#0818a0"/>
</g>
<g clip-path="url(#clipdiag)"><g clip-path="url(#clipd)">
<polyline points="277.00,263.62 413.00,390.12" fill="none" stroke="#1a7cff" stroke-width="2.0" opacity="0.85" filter="url(#bl05)"/>
<polyline points="277.82,262.74 413.82,389.24" fill="none" stroke="#00e8ff" stroke-width="1.9"/>
<polyline points="280.00,260.40 416.00,386.90" fill="none" stroke="#00ee30" stroke-width="4.4"/>
<polyline points="280.14,260.25 416.14,386.75" fill="none" stroke="#c0ff00" stroke-width="2.0" filter="url(#bl05)"/>
<polyline points="280.14,260.25 416.14,386.75" fill="none" stroke="#ff5a00" stroke-width="1.6" stroke-dasharray="1.8 4.5 1.6 6" filter="url(#bl05)"/>
<polyline points="281.84,258.42 417.84,384.92" fill="none" stroke="#18c0ff" stroke-width="1.2" stroke-dasharray="1.3 2.3" stroke-dashoffset="1.2"/>
</g></g>
<ellipse cx="411.8" cy="381.3" rx="2.6" ry="1.0" fill="#ff6a00"/>
<polyline points="291.9,262 413.4,374.4 537,374.4" fill="none" stroke="#5a22b8" stroke-width="1.0"/>
<rect x="296.1" y="226.5" width="46.9" height="36.3" fill="#fff"/>
<text x="303.7" y="253" font-size="22.3" textLength="28" lengthAdjust="spacingAndGlyphs">(d)</text>
<rect x="451.7" y="246.1" width="28.8" height="78.5" fill="url(#cbar)"/>
<line x1="480.7" y1="246.1" x2="480.7" y2="324.6" stroke="#e8f0ff" stroke-width="0.8" opacity="0.8"/>
<text x="483.2" y="251.1" font-size="11.4" font-weight="bold" fill="#ffff2a">2.00</text>
<text x="483.2" y="266.6" font-size="11.4" font-weight="bold" fill="#ffff2a">1.60</text>
<text x="483.2" y="282.1" font-size="11.4" font-weight="bold" fill="#ffff2a">1.20</text>
<text x="483.2" y="297.7" font-size="11.4" font-weight="bold" fill="#ffff2a">0.80</text>
<text x="483.2" y="313.2" font-size="11.4" font-weight="bold" fill="#ffff2a">0.40</text>
<text x="483.2" y="328.7" font-size="11.4" font-weight="bold" fill="#ffff2a">0.00</text>
<text x="451.7" y="341.5" font-size="11.3" font-weight="bold" fill="#22e022">Current Density</text>
<text x="473.5" y="355" font-size="11" font-weight="bold" fill="#fff">× 10<tspan font-size="7.5" dy="-4.5">6</tspan><tspan dy="4.5"> A/cm</tspan><tspan font-size="7.5" dy="-4.5">2</tspan></text>
<text x="302.9" y="375.4" font-size="13" font-weight="bold" fill="#ffff2a" textLength="57" lengthAdjust="spacingAndGlyphs">ESC-MOS</text>
<text y="406.8" font-size="12" font-weight="bold" fill="#ffff2a"><tspan x="302.8">@</tspan><tspan x="318.3" font-style="italic">V</tspan><tspan x="325" font-style="italic" font-size="8.6" dy="3">d</tspan><tspan x="333" dy="-3">=</tspan><tspan x="343.6">10</tspan><tspan x="358.2">V</tspan><tspan x="371" font-style="italic">V</tspan><tspan x="378" font-style="italic" font-size="8.6" dy="3">g</tspan><tspan x="384.5" dy="-3">–</tspan><tspan x="394" font-style="italic">V</tspan><tspan x="401.5" font-style="italic" font-size="8.6" dy="3">th</tspan><tspan x="412.5" dy="-3">=</tspan><tspan x="423">1.5</tspan><tspan x="440">V</tspan></text>
<rect x="291" y="223.8" width="246.5" height="197.8" fill="none" stroke="#000" stroke-width="2"/>
</svg>
</body></html>
